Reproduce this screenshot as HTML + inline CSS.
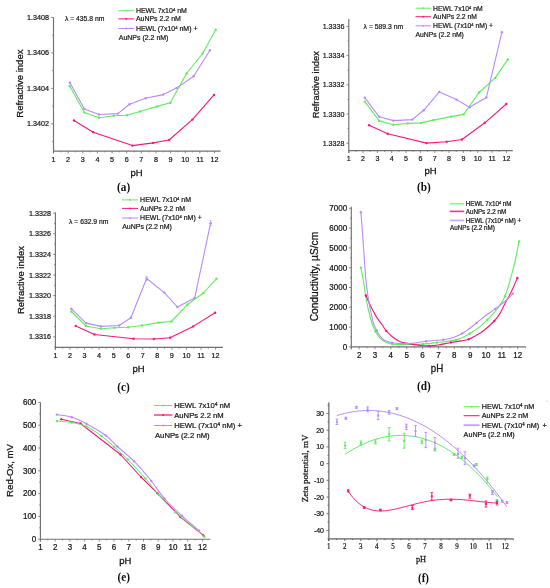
<!DOCTYPE html>
<html><head><meta charset="utf-8"><title>Figure</title>
<style>
html,body{margin:0;padding:0;background:#fff;}
body{width:550px;height:588px;overflow:hidden;}
svg{display:block;}
</style></head>
<body>
<svg width="550" height="588" viewBox="0 0 550 588">
<rect width="550" height="588" fill="#fff"/>
<line x1="53.5" y1="17.4" x2="53.5" y2="153.4" stroke="#707070" stroke-width="1.15"/>
<line x1="53.5" y1="151.1" x2="220.6" y2="151.1" stroke="#707070" stroke-width="1.15"/>
<line x1="51.2" y1="123.9" x2="53.5" y2="123.9" stroke="#707070" stroke-width="0.8"/>
<line x1="51.2" y1="88.4" x2="53.5" y2="88.4" stroke="#707070" stroke-width="0.8"/>
<line x1="51.2" y1="52.9" x2="53.5" y2="52.9" stroke="#707070" stroke-width="0.8"/>
<line x1="51.2" y1="17.4" x2="53.5" y2="17.4" stroke="#707070" stroke-width="0.8"/>
<line x1="52.2" y1="141.65" x2="53.5" y2="141.65" stroke="#707070" stroke-width="0.8"/>
<line x1="52.2" y1="106.15" x2="53.5" y2="106.15" stroke="#707070" stroke-width="0.8"/>
<line x1="52.2" y1="70.65" x2="53.5" y2="70.65" stroke="#707070" stroke-width="0.8"/>
<line x1="52.2" y1="35.15" x2="53.5" y2="35.15" stroke="#707070" stroke-width="0.8"/>
<line x1="53.5" y1="151.1" x2="53.5" y2="153.4" stroke="#707070" stroke-width="0.8"/>
<line x1="68.14" y1="151.1" x2="68.14" y2="153.4" stroke="#707070" stroke-width="0.8"/>
<line x1="82.78" y1="151.1" x2="82.78" y2="153.4" stroke="#707070" stroke-width="0.8"/>
<line x1="97.42" y1="151.1" x2="97.42" y2="153.4" stroke="#707070" stroke-width="0.8"/>
<line x1="112.06" y1="151.1" x2="112.06" y2="153.4" stroke="#707070" stroke-width="0.8"/>
<line x1="126.7" y1="151.1" x2="126.7" y2="153.4" stroke="#707070" stroke-width="0.8"/>
<line x1="141.34" y1="151.1" x2="141.34" y2="153.4" stroke="#707070" stroke-width="0.8"/>
<line x1="155.98" y1="151.1" x2="155.98" y2="153.4" stroke="#707070" stroke-width="0.8"/>
<line x1="170.62" y1="151.1" x2="170.62" y2="153.4" stroke="#707070" stroke-width="0.8"/>
<line x1="185.26" y1="151.1" x2="185.26" y2="153.4" stroke="#707070" stroke-width="0.8"/>
<line x1="199.9" y1="151.1" x2="199.9" y2="153.4" stroke="#707070" stroke-width="0.8"/>
<line x1="214.54" y1="151.1" x2="214.54" y2="153.4" stroke="#707070" stroke-width="0.8"/>
<line x1="60.82" y1="151.1" x2="60.82" y2="152.4" stroke="#707070" stroke-width="0.8"/>
<line x1="75.46" y1="151.1" x2="75.46" y2="152.4" stroke="#707070" stroke-width="0.8"/>
<line x1="90.1" y1="151.1" x2="90.1" y2="152.4" stroke="#707070" stroke-width="0.8"/>
<line x1="104.74" y1="151.1" x2="104.74" y2="152.4" stroke="#707070" stroke-width="0.8"/>
<line x1="119.38" y1="151.1" x2="119.38" y2="152.4" stroke="#707070" stroke-width="0.8"/>
<line x1="134.02" y1="151.1" x2="134.02" y2="152.4" stroke="#707070" stroke-width="0.8"/>
<line x1="148.66" y1="151.1" x2="148.66" y2="152.4" stroke="#707070" stroke-width="0.8"/>
<line x1="163.3" y1="151.1" x2="163.3" y2="152.4" stroke="#707070" stroke-width="0.8"/>
<line x1="177.94" y1="151.1" x2="177.94" y2="152.4" stroke="#707070" stroke-width="0.8"/>
<line x1="192.58" y1="151.1" x2="192.58" y2="152.4" stroke="#707070" stroke-width="0.8"/>
<line x1="207.22" y1="151.1" x2="207.22" y2="152.4" stroke="#707070" stroke-width="0.8"/>
<text x="49.1" y="126.49" font-family="'Liberation Sans', Arial, sans-serif" font-size="7.2" text-anchor="end" font-weight="normal" fill="#161616" transform="matrix(1 0 0 1.05 0 -6.32)" stroke="#161616" stroke-width="0.21">1.3402</text>
<text x="49.1" y="90.99" font-family="'Liberation Sans', Arial, sans-serif" font-size="7.2" text-anchor="end" font-weight="normal" fill="#161616" transform="matrix(1 0 0 1.05 0 -4.55)" stroke="#161616" stroke-width="0.21">1.3404</text>
<text x="49.1" y="55.49" font-family="'Liberation Sans', Arial, sans-serif" font-size="7.2" text-anchor="end" font-weight="normal" fill="#161616" transform="matrix(1 0 0 1.05 0 -2.77)" stroke="#161616" stroke-width="0.21">1.3406</text>
<text x="49.1" y="19.99" font-family="'Liberation Sans', Arial, sans-serif" font-size="7.2" text-anchor="end" font-weight="normal" fill="#161616" transform="matrix(1 0 0 1.05 0 -1)" stroke="#161616" stroke-width="0.21">1.3408</text>
<text x="53.5" y="161.9" font-family="'Liberation Sans', Arial, sans-serif" font-size="7.2" text-anchor="middle" font-weight="normal" fill="#161616" transform="matrix(1 0 0 1.05 0 -8.1)" stroke="#161616" stroke-width="0.21">1</text>
<text x="68.14" y="161.9" font-family="'Liberation Sans', Arial, sans-serif" font-size="7.2" text-anchor="middle" font-weight="normal" fill="#161616" transform="matrix(1 0 0 1.05 0 -8.1)" stroke="#161616" stroke-width="0.21">2</text>
<text x="82.78" y="161.9" font-family="'Liberation Sans', Arial, sans-serif" font-size="7.2" text-anchor="middle" font-weight="normal" fill="#161616" transform="matrix(1 0 0 1.05 0 -8.1)" stroke="#161616" stroke-width="0.21">3</text>
<text x="97.42" y="161.9" font-family="'Liberation Sans', Arial, sans-serif" font-size="7.2" text-anchor="middle" font-weight="normal" fill="#161616" transform="matrix(1 0 0 1.05 0 -8.1)" stroke="#161616" stroke-width="0.21">4</text>
<text x="112.06" y="161.9" font-family="'Liberation Sans', Arial, sans-serif" font-size="7.2" text-anchor="middle" font-weight="normal" fill="#161616" transform="matrix(1 0 0 1.05 0 -8.1)" stroke="#161616" stroke-width="0.21">5</text>
<text x="126.7" y="161.9" font-family="'Liberation Sans', Arial, sans-serif" font-size="7.2" text-anchor="middle" font-weight="normal" fill="#161616" transform="matrix(1 0 0 1.05 0 -8.1)" stroke="#161616" stroke-width="0.21">6</text>
<text x="141.34" y="161.9" font-family="'Liberation Sans', Arial, sans-serif" font-size="7.2" text-anchor="middle" font-weight="normal" fill="#161616" transform="matrix(1 0 0 1.05 0 -8.1)" stroke="#161616" stroke-width="0.21">7</text>
<text x="155.98" y="161.9" font-family="'Liberation Sans', Arial, sans-serif" font-size="7.2" text-anchor="middle" font-weight="normal" fill="#161616" transform="matrix(1 0 0 1.05 0 -8.1)" stroke="#161616" stroke-width="0.21">8</text>
<text x="170.62" y="161.9" font-family="'Liberation Sans', Arial, sans-serif" font-size="7.2" text-anchor="middle" font-weight="normal" fill="#161616" transform="matrix(1 0 0 1.05 0 -8.1)" stroke="#161616" stroke-width="0.21">9</text>
<text x="185.26" y="161.9" font-family="'Liberation Sans', Arial, sans-serif" font-size="7.2" text-anchor="middle" font-weight="normal" fill="#161616" transform="matrix(1 0 0 1.05 0 -8.1)" stroke="#161616" stroke-width="0.21">10</text>
<text x="199.9" y="161.9" font-family="'Liberation Sans', Arial, sans-serif" font-size="7.2" text-anchor="middle" font-weight="normal" fill="#161616" transform="matrix(1 0 0 1.05 0 -8.1)" stroke="#161616" stroke-width="0.21">11</text>
<text x="214.54" y="161.9" font-family="'Liberation Sans', Arial, sans-serif" font-size="7.2" text-anchor="middle" font-weight="normal" fill="#161616" transform="matrix(1 0 0 1.05 0 -8.1)" stroke="#161616" stroke-width="0.21">12</text>
<text x="22.6" y="83.65" font-family="'Liberation Sans', Arial, sans-serif" font-size="9.5" text-anchor="middle" font-weight="normal" fill="#161616" transform="rotate(-90 22.6 83.65)" stroke="#161616" stroke-width="0.28">Refractive index</text>
<text x="136.5" y="175.6" font-family="'Liberation Sans', Arial, sans-serif" font-size="9.5" text-anchor="middle" font-weight="normal" fill="#161616" transform="matrix(1 0 0 1.05 0 -8.78)" stroke="#161616" stroke-width="0.28">pH</text>
<text x="123.7" y="190.6" font-family="'Liberation Serif', 'Times New Roman', serif" font-size="11.3" text-anchor="middle" font-weight="bold" fill="#111" transform="matrix(1 0 0 1.07 0 -13.34)">(a)</text>
<text x="64.9" y="21" font-family="'Liberation Sans', Arial, sans-serif" font-size="6.8" text-anchor="start" font-weight="normal" fill="#161616" transform="matrix(1 0 0 1.05 0 -1.05)" stroke="#161616" stroke-width="0.2">λ = 435.8 nm</text>
<line x1="118.4" y1="10.7" x2="134.2" y2="10.7" stroke="#5fec5f" stroke-width="1.0"/>
<circle cx="126.3" cy="10.7" r="0.9" fill="#5fec5f"/>
<text x="135.9" y="13.15" font-family="'Liberation Sans', Arial, sans-serif" font-size="7" text-anchor="start" font-weight="normal" fill="#161616" transform="matrix(1 0 0 1.05 0 -0.66)" stroke="#161616" stroke-width="0.2">HEWL 7x10<tspan font-size="4.2" dy="-1.89">4</tspan><tspan dy="1.89"> nM</tspan></text>
<line x1="118.4" y1="18.9" x2="134.2" y2="18.9" stroke="#f5197d" stroke-width="1.0"/>
<circle cx="126.3" cy="18.9" r="0.9" fill="#f5197d"/>
<text x="135.9" y="21.35" font-family="'Liberation Sans', Arial, sans-serif" font-size="7" text-anchor="start" font-weight="normal" fill="#161616" transform="matrix(1 0 0 1.05 0 -1.07)" stroke="#161616" stroke-width="0.2">AuNPs 2.2 nM</text>
<line x1="118.4" y1="28.5" x2="134.2" y2="28.5" stroke="#b98afc" stroke-width="1.0"/>
<circle cx="126.3" cy="28.5" r="0.9" fill="#b98afc"/>
<text x="135.9" y="30.95" font-family="'Liberation Sans', Arial, sans-serif" font-size="7" text-anchor="start" font-weight="normal" fill="#161616" transform="matrix(1 0 0 1.05 0 -1.55)" stroke="#161616" stroke-width="0.2">HEWL (7x10<tspan font-size="4.2" dy="-1.89">4</tspan><tspan dy="1.89"> nM) +</tspan></text>
<text x="118.8" y="39.95" font-family="'Liberation Sans', Arial, sans-serif" font-size="7" text-anchor="start" font-weight="normal" fill="#161616" transform="matrix(1 0 0 1.05 0 -2)" stroke="#161616" stroke-width="0.2">AuNPs (2.2 nM)</text>
<polyline points="69.6,86 84.4,112.6 99,117.7 113.8,115.7 126.9,115.2 140,111.5 157.2,106.4 170.3,102.8 186.5,73.5 202.6,53.5 215.7,29.8" fill="none" stroke="#5fec5f" stroke-width="1.1" stroke-linejoin="round"/>
<circle cx="69.6" cy="86" r="1.2" fill="#5fec5f"/>
<circle cx="84.4" cy="112.6" r="1.2" fill="#5fec5f"/>
<circle cx="99" cy="117.7" r="1.2" fill="#5fec5f"/>
<circle cx="113.8" cy="115.7" r="1.2" fill="#5fec5f"/>
<circle cx="126.9" cy="115.2" r="1.2" fill="#5fec5f"/>
<circle cx="140" cy="111.5" r="1.2" fill="#5fec5f"/>
<circle cx="157.2" cy="106.4" r="1.2" fill="#5fec5f"/>
<circle cx="170.3" cy="102.8" r="1.2" fill="#5fec5f"/>
<circle cx="186.5" cy="73.5" r="1.2" fill="#5fec5f"/>
<circle cx="202.6" cy="53.5" r="1.2" fill="#5fec5f"/>
<circle cx="215.7" cy="29.8" r="1.2" fill="#5fec5f"/>
<polyline points="74,120.5 93.2,132.3 132.4,145.6 153.1,142.9 169.1,140 192.4,119.6 214,94.9" fill="none" stroke="#f5197d" stroke-width="1.1" stroke-linejoin="round"/>
<circle cx="74" cy="120.5" r="1.2" fill="#f5197d"/>
<circle cx="93.2" cy="132.3" r="1.2" fill="#f5197d"/>
<circle cx="132.4" cy="145.6" r="1.2" fill="#f5197d"/>
<circle cx="153.1" cy="142.9" r="1.2" fill="#f5197d"/>
<circle cx="169.1" cy="140" r="1.2" fill="#f5197d"/>
<circle cx="192.4" cy="119.6" r="1.2" fill="#f5197d"/>
<circle cx="214" cy="94.9" r="1.2" fill="#f5197d"/>
<polyline points="69.9,82.8 84.4,109 99,114.5 117.9,113.6 129.5,104.3 145.6,98.2 163.2,94.6 176.5,88.1 193.7,76.2 209.9,50.2" fill="none" stroke="#b98afc" stroke-width="1.1" stroke-linejoin="round"/>
<circle cx="69.9" cy="82.8" r="1.2" fill="#b98afc"/>
<circle cx="84.4" cy="109" r="1.2" fill="#b98afc"/>
<circle cx="99" cy="114.5" r="1.2" fill="#b98afc"/>
<circle cx="117.9" cy="113.6" r="1.2" fill="#b98afc"/>
<circle cx="129.5" cy="104.3" r="1.2" fill="#b98afc"/>
<circle cx="145.6" cy="98.2" r="1.2" fill="#b98afc"/>
<circle cx="163.2" cy="94.6" r="1.2" fill="#b98afc"/>
<circle cx="176.5" cy="88.1" r="1.2" fill="#b98afc"/>
<circle cx="193.7" cy="76.2" r="1.2" fill="#b98afc"/>
<circle cx="209.9" cy="50.2" r="1.2" fill="#b98afc"/>
<line x1="348.8" y1="19.1" x2="348.8" y2="152.9" stroke="#707070" stroke-width="1.15"/>
<line x1="348.8" y1="150.6" x2="512.8" y2="150.6" stroke="#707070" stroke-width="1.15"/>
<line x1="346.5" y1="143.2" x2="348.8" y2="143.2" stroke="#707070" stroke-width="0.8"/>
<line x1="346.5" y1="114" x2="348.8" y2="114" stroke="#707070" stroke-width="0.8"/>
<line x1="346.5" y1="84.8" x2="348.8" y2="84.8" stroke="#707070" stroke-width="0.8"/>
<line x1="346.5" y1="55.6" x2="348.8" y2="55.6" stroke="#707070" stroke-width="0.8"/>
<line x1="346.5" y1="26.4" x2="348.8" y2="26.4" stroke="#707070" stroke-width="0.8"/>
<line x1="347.5" y1="128.6" x2="348.8" y2="128.6" stroke="#707070" stroke-width="0.8"/>
<line x1="347.5" y1="99.4" x2="348.8" y2="99.4" stroke="#707070" stroke-width="0.8"/>
<line x1="347.5" y1="70.2" x2="348.8" y2="70.2" stroke="#707070" stroke-width="0.8"/>
<line x1="347.5" y1="41" x2="348.8" y2="41" stroke="#707070" stroke-width="0.8"/>
<line x1="348.7" y1="150.6" x2="348.7" y2="152.9" stroke="#707070" stroke-width="0.8"/>
<line x1="363.04" y1="150.6" x2="363.04" y2="152.9" stroke="#707070" stroke-width="0.8"/>
<line x1="377.38" y1="150.6" x2="377.38" y2="152.9" stroke="#707070" stroke-width="0.8"/>
<line x1="391.72" y1="150.6" x2="391.72" y2="152.9" stroke="#707070" stroke-width="0.8"/>
<line x1="406.06" y1="150.6" x2="406.06" y2="152.9" stroke="#707070" stroke-width="0.8"/>
<line x1="420.4" y1="150.6" x2="420.4" y2="152.9" stroke="#707070" stroke-width="0.8"/>
<line x1="434.74" y1="150.6" x2="434.74" y2="152.9" stroke="#707070" stroke-width="0.8"/>
<line x1="449.08" y1="150.6" x2="449.08" y2="152.9" stroke="#707070" stroke-width="0.8"/>
<line x1="463.42" y1="150.6" x2="463.42" y2="152.9" stroke="#707070" stroke-width="0.8"/>
<line x1="477.76" y1="150.6" x2="477.76" y2="152.9" stroke="#707070" stroke-width="0.8"/>
<line x1="492.1" y1="150.6" x2="492.1" y2="152.9" stroke="#707070" stroke-width="0.8"/>
<line x1="506.44" y1="150.6" x2="506.44" y2="152.9" stroke="#707070" stroke-width="0.8"/>
<line x1="355.87" y1="150.6" x2="355.87" y2="151.9" stroke="#707070" stroke-width="0.8"/>
<line x1="370.21" y1="150.6" x2="370.21" y2="151.9" stroke="#707070" stroke-width="0.8"/>
<line x1="384.55" y1="150.6" x2="384.55" y2="151.9" stroke="#707070" stroke-width="0.8"/>
<line x1="398.89" y1="150.6" x2="398.89" y2="151.9" stroke="#707070" stroke-width="0.8"/>
<line x1="413.23" y1="150.6" x2="413.23" y2="151.9" stroke="#707070" stroke-width="0.8"/>
<line x1="427.57" y1="150.6" x2="427.57" y2="151.9" stroke="#707070" stroke-width="0.8"/>
<line x1="441.91" y1="150.6" x2="441.91" y2="151.9" stroke="#707070" stroke-width="0.8"/>
<line x1="456.25" y1="150.6" x2="456.25" y2="151.9" stroke="#707070" stroke-width="0.8"/>
<line x1="470.59" y1="150.6" x2="470.59" y2="151.9" stroke="#707070" stroke-width="0.8"/>
<line x1="484.93" y1="150.6" x2="484.93" y2="151.9" stroke="#707070" stroke-width="0.8"/>
<line x1="499.27" y1="150.6" x2="499.27" y2="151.9" stroke="#707070" stroke-width="0.8"/>
<text x="344.4" y="145.76" font-family="'Liberation Sans', Arial, sans-serif" font-size="7.1" text-anchor="end" font-weight="normal" fill="#161616" transform="matrix(1 0 0 1.05 0 -7.29)" stroke="#161616" stroke-width="0.2">1.3328</text>
<text x="344.4" y="116.56" font-family="'Liberation Sans', Arial, sans-serif" font-size="7.1" text-anchor="end" font-weight="normal" fill="#161616" transform="matrix(1 0 0 1.05 0 -5.83)" stroke="#161616" stroke-width="0.2">1.3330</text>
<text x="344.4" y="87.36" font-family="'Liberation Sans', Arial, sans-serif" font-size="7.1" text-anchor="end" font-weight="normal" fill="#161616" transform="matrix(1 0 0 1.05 0 -4.37)" stroke="#161616" stroke-width="0.2">1.3332</text>
<text x="344.4" y="58.16" font-family="'Liberation Sans', Arial, sans-serif" font-size="7.1" text-anchor="end" font-weight="normal" fill="#161616" transform="matrix(1 0 0 1.05 0 -2.91)" stroke="#161616" stroke-width="0.2">1.3334</text>
<text x="344.4" y="28.96" font-family="'Liberation Sans', Arial, sans-serif" font-size="7.1" text-anchor="end" font-weight="normal" fill="#161616" transform="matrix(1 0 0 1.05 0 -1.45)" stroke="#161616" stroke-width="0.2">1.3336</text>
<text x="348.7" y="161" font-family="'Liberation Sans', Arial, sans-serif" font-size="7.1" text-anchor="middle" font-weight="normal" fill="#161616" transform="matrix(1 0 0 1.05 0 -8.05)" stroke="#161616" stroke-width="0.2">1</text>
<text x="363.04" y="161" font-family="'Liberation Sans', Arial, sans-serif" font-size="7.1" text-anchor="middle" font-weight="normal" fill="#161616" transform="matrix(1 0 0 1.05 0 -8.05)" stroke="#161616" stroke-width="0.2">2</text>
<text x="377.38" y="161" font-family="'Liberation Sans', Arial, sans-serif" font-size="7.1" text-anchor="middle" font-weight="normal" fill="#161616" transform="matrix(1 0 0 1.05 0 -8.05)" stroke="#161616" stroke-width="0.2">3</text>
<text x="391.72" y="161" font-family="'Liberation Sans', Arial, sans-serif" font-size="7.1" text-anchor="middle" font-weight="normal" fill="#161616" transform="matrix(1 0 0 1.05 0 -8.05)" stroke="#161616" stroke-width="0.2">4</text>
<text x="406.06" y="161" font-family="'Liberation Sans', Arial, sans-serif" font-size="7.1" text-anchor="middle" font-weight="normal" fill="#161616" transform="matrix(1 0 0 1.05 0 -8.05)" stroke="#161616" stroke-width="0.2">5</text>
<text x="420.4" y="161" font-family="'Liberation Sans', Arial, sans-serif" font-size="7.1" text-anchor="middle" font-weight="normal" fill="#161616" transform="matrix(1 0 0 1.05 0 -8.05)" stroke="#161616" stroke-width="0.2">6</text>
<text x="434.74" y="161" font-family="'Liberation Sans', Arial, sans-serif" font-size="7.1" text-anchor="middle" font-weight="normal" fill="#161616" transform="matrix(1 0 0 1.05 0 -8.05)" stroke="#161616" stroke-width="0.2">7</text>
<text x="449.08" y="161" font-family="'Liberation Sans', Arial, sans-serif" font-size="7.1" text-anchor="middle" font-weight="normal" fill="#161616" transform="matrix(1 0 0 1.05 0 -8.05)" stroke="#161616" stroke-width="0.2">8</text>
<text x="463.42" y="161" font-family="'Liberation Sans', Arial, sans-serif" font-size="7.1" text-anchor="middle" font-weight="normal" fill="#161616" transform="matrix(1 0 0 1.05 0 -8.05)" stroke="#161616" stroke-width="0.2">9</text>
<text x="477.76" y="161" font-family="'Liberation Sans', Arial, sans-serif" font-size="7.1" text-anchor="middle" font-weight="normal" fill="#161616" transform="matrix(1 0 0 1.05 0 -8.05)" stroke="#161616" stroke-width="0.2">10</text>
<text x="492.1" y="161" font-family="'Liberation Sans', Arial, sans-serif" font-size="7.1" text-anchor="middle" font-weight="normal" fill="#161616" transform="matrix(1 0 0 1.05 0 -8.05)" stroke="#161616" stroke-width="0.2">11</text>
<text x="506.44" y="161" font-family="'Liberation Sans', Arial, sans-serif" font-size="7.1" text-anchor="middle" font-weight="normal" fill="#161616" transform="matrix(1 0 0 1.05 0 -8.05)" stroke="#161616" stroke-width="0.2">12</text>
<text x="319" y="84.65" font-family="'Liberation Sans', Arial, sans-serif" font-size="9.4" text-anchor="middle" font-weight="normal" fill="#161616" transform="rotate(-90 319 84.65)" stroke="#161616" stroke-width="0.27">Refractive index</text>
<text x="430.6" y="174.4" font-family="'Liberation Sans', Arial, sans-serif" font-size="9.5" text-anchor="middle" font-weight="normal" fill="#161616" transform="matrix(1 0 0 1.05 0 -8.72)" stroke="#161616" stroke-width="0.28">pH</text>
<text x="423.8" y="190.7" font-family="'Liberation Serif', 'Times New Roman', serif" font-size="11.3" text-anchor="middle" font-weight="bold" fill="#111" transform="matrix(1 0 0 1.07 0 -13.35)">(b)</text>
<text x="363.6" y="28.8" font-family="'Liberation Sans', Arial, sans-serif" font-size="6.8" text-anchor="start" font-weight="normal" fill="#161616" transform="matrix(1 0 0 1.05 0 -1.44)" stroke="#161616" stroke-width="0.2">λ = 589.3 nm</text>
<line x1="415.5" y1="8.2" x2="430.9" y2="8.2" stroke="#5fec5f" stroke-width="1.0"/>
<circle cx="423.2" cy="8.2" r="0.9" fill="#5fec5f"/>
<text x="433.1" y="10.58" font-family="'Liberation Sans', Arial, sans-serif" font-size="6.8" text-anchor="start" font-weight="normal" fill="#161616" transform="matrix(1 0 0 1.05 0 -0.53)" stroke="#161616" stroke-width="0.2">HEWL 7x10<tspan font-size="4.08" dy="-1.84">4</tspan><tspan dy="1.84"> nM</tspan></text>
<line x1="415.5" y1="16.7" x2="430.9" y2="16.7" stroke="#f5197d" stroke-width="1.0"/>
<circle cx="423.2" cy="16.7" r="0.9" fill="#f5197d"/>
<text x="433.1" y="19.08" font-family="'Liberation Sans', Arial, sans-serif" font-size="6.8" text-anchor="start" font-weight="normal" fill="#161616" transform="matrix(1 0 0 1.05 0 -0.95)" stroke="#161616" stroke-width="0.2">AuNPs 2.2 nM</text>
<line x1="415.5" y1="25.8" x2="430.9" y2="25.8" stroke="#b98afc" stroke-width="1.0"/>
<circle cx="423.2" cy="25.8" r="0.9" fill="#b98afc"/>
<text x="433.1" y="28.18" font-family="'Liberation Sans', Arial, sans-serif" font-size="6.8" text-anchor="start" font-weight="normal" fill="#161616" transform="matrix(1 0 0 1.05 0 -1.41)" stroke="#161616" stroke-width="0.2">HEWL (7x10<tspan font-size="4.08" dy="-1.84">4</tspan><tspan dy="1.84"> nM) +</tspan></text>
<text x="415.5" y="36.58" font-family="'Liberation Sans', Arial, sans-serif" font-size="6.8" text-anchor="start" font-weight="normal" fill="#161616" transform="matrix(1 0 0 1.05 0 -1.83)" stroke="#161616" stroke-width="0.2">AuNPs (2.2 nM)</text>
<polyline points="364.8,101.6 379.2,120.9 393.5,124.7 407.7,123.4 420.8,122.9 433.5,120.1 451,116.6 463.6,114.4 479.1,92.5 495.2,77.9 507.8,59.4" fill="none" stroke="#5fec5f" stroke-width="1.1" stroke-linejoin="round"/>
<circle cx="364.8" cy="101.6" r="1.2" fill="#5fec5f"/>
<circle cx="379.2" cy="120.9" r="1.2" fill="#5fec5f"/>
<circle cx="393.5" cy="124.7" r="1.2" fill="#5fec5f"/>
<circle cx="407.7" cy="123.4" r="1.2" fill="#5fec5f"/>
<circle cx="420.8" cy="122.9" r="1.2" fill="#5fec5f"/>
<circle cx="433.5" cy="120.1" r="1.2" fill="#5fec5f"/>
<circle cx="451" cy="116.6" r="1.2" fill="#5fec5f"/>
<circle cx="463.6" cy="114.4" r="1.2" fill="#5fec5f"/>
<circle cx="479.1" cy="92.5" r="1.2" fill="#5fec5f"/>
<circle cx="495.2" cy="77.9" r="1.2" fill="#5fec5f"/>
<circle cx="507.8" cy="59.4" r="1.2" fill="#5fec5f"/>
<polyline points="369.1,125.2 387.7,133.7 426.5,143.1 446.6,141.7 462,139.5 484.8,122.8 506.3,104" fill="none" stroke="#f5197d" stroke-width="1.1" stroke-linejoin="round"/>
<circle cx="369.1" cy="125.2" r="1.2" fill="#f5197d"/>
<circle cx="387.7" cy="133.7" r="1.2" fill="#f5197d"/>
<circle cx="426.5" cy="143.1" r="1.2" fill="#f5197d"/>
<circle cx="446.6" cy="141.7" r="1.2" fill="#f5197d"/>
<circle cx="462" cy="139.5" r="1.2" fill="#f5197d"/>
<circle cx="484.8" cy="122.8" r="1.2" fill="#f5197d"/>
<circle cx="506.3" cy="104" r="1.2" fill="#f5197d"/>
<polyline points="364.8,97.7 379.2,116.8 393.5,120.6 412.3,119.6 423.7,110.3 439.3,91.9 456.5,99.6 469.4,107.3 486.4,97.4 501.9,32.2" fill="none" stroke="#b98afc" stroke-width="1.1" stroke-linejoin="round"/>
<circle cx="364.8" cy="97.7" r="1.2" fill="#b98afc"/>
<circle cx="379.2" cy="116.8" r="1.2" fill="#b98afc"/>
<circle cx="393.5" cy="120.6" r="1.2" fill="#b98afc"/>
<circle cx="412.3" cy="119.6" r="1.2" fill="#b98afc"/>
<circle cx="423.7" cy="110.3" r="1.2" fill="#b98afc"/>
<circle cx="439.3" cy="91.9" r="1.2" fill="#b98afc"/>
<circle cx="456.5" cy="99.6" r="1.2" fill="#b98afc"/>
<circle cx="469.4" cy="107.3" r="1.2" fill="#b98afc"/>
<circle cx="486.4" cy="97.4" r="1.2" fill="#b98afc"/>
<circle cx="501.9" cy="32.2" r="1.2" fill="#b98afc"/>
<line x1="55.4" y1="212.6" x2="55.4" y2="349.7" stroke="#707070" stroke-width="1.15"/>
<line x1="55.4" y1="347.4" x2="222.9" y2="347.4" stroke="#707070" stroke-width="1.15"/>
<line x1="53.1" y1="336.88" x2="55.4" y2="336.88" stroke="#707070" stroke-width="0.8"/>
<line x1="53.1" y1="316.25" x2="55.4" y2="316.25" stroke="#707070" stroke-width="0.8"/>
<line x1="53.1" y1="295.62" x2="55.4" y2="295.62" stroke="#707070" stroke-width="0.8"/>
<line x1="53.1" y1="274.99" x2="55.4" y2="274.99" stroke="#707070" stroke-width="0.8"/>
<line x1="53.1" y1="254.36" x2="55.4" y2="254.36" stroke="#707070" stroke-width="0.8"/>
<line x1="53.1" y1="233.73" x2="55.4" y2="233.73" stroke="#707070" stroke-width="0.8"/>
<line x1="53.1" y1="213.1" x2="55.4" y2="213.1" stroke="#707070" stroke-width="0.8"/>
<line x1="54.1" y1="347.2" x2="55.4" y2="347.2" stroke="#707070" stroke-width="0.8"/>
<line x1="54.1" y1="326.57" x2="55.4" y2="326.57" stroke="#707070" stroke-width="0.8"/>
<line x1="54.1" y1="305.94" x2="55.4" y2="305.94" stroke="#707070" stroke-width="0.8"/>
<line x1="54.1" y1="285.31" x2="55.4" y2="285.31" stroke="#707070" stroke-width="0.8"/>
<line x1="54.1" y1="264.68" x2="55.4" y2="264.68" stroke="#707070" stroke-width="0.8"/>
<line x1="54.1" y1="244.05" x2="55.4" y2="244.05" stroke="#707070" stroke-width="0.8"/>
<line x1="54.1" y1="223.41" x2="55.4" y2="223.41" stroke="#707070" stroke-width="0.8"/>
<line x1="55.4" y1="347.4" x2="55.4" y2="349.7" stroke="#707070" stroke-width="0.8"/>
<line x1="69.96" y1="347.4" x2="69.96" y2="349.7" stroke="#707070" stroke-width="0.8"/>
<line x1="84.52" y1="347.4" x2="84.52" y2="349.7" stroke="#707070" stroke-width="0.8"/>
<line x1="99.08" y1="347.4" x2="99.08" y2="349.7" stroke="#707070" stroke-width="0.8"/>
<line x1="113.64" y1="347.4" x2="113.64" y2="349.7" stroke="#707070" stroke-width="0.8"/>
<line x1="128.2" y1="347.4" x2="128.2" y2="349.7" stroke="#707070" stroke-width="0.8"/>
<line x1="142.76" y1="347.4" x2="142.76" y2="349.7" stroke="#707070" stroke-width="0.8"/>
<line x1="157.32" y1="347.4" x2="157.32" y2="349.7" stroke="#707070" stroke-width="0.8"/>
<line x1="171.88" y1="347.4" x2="171.88" y2="349.7" stroke="#707070" stroke-width="0.8"/>
<line x1="186.44" y1="347.4" x2="186.44" y2="349.7" stroke="#707070" stroke-width="0.8"/>
<line x1="201" y1="347.4" x2="201" y2="349.7" stroke="#707070" stroke-width="0.8"/>
<line x1="215.56" y1="347.4" x2="215.56" y2="349.7" stroke="#707070" stroke-width="0.8"/>
<line x1="62.68" y1="347.4" x2="62.68" y2="348.7" stroke="#707070" stroke-width="0.8"/>
<line x1="77.24" y1="347.4" x2="77.24" y2="348.7" stroke="#707070" stroke-width="0.8"/>
<line x1="91.8" y1="347.4" x2="91.8" y2="348.7" stroke="#707070" stroke-width="0.8"/>
<line x1="106.36" y1="347.4" x2="106.36" y2="348.7" stroke="#707070" stroke-width="0.8"/>
<line x1="120.92" y1="347.4" x2="120.92" y2="348.7" stroke="#707070" stroke-width="0.8"/>
<line x1="135.48" y1="347.4" x2="135.48" y2="348.7" stroke="#707070" stroke-width="0.8"/>
<line x1="150.04" y1="347.4" x2="150.04" y2="348.7" stroke="#707070" stroke-width="0.8"/>
<line x1="164.6" y1="347.4" x2="164.6" y2="348.7" stroke="#707070" stroke-width="0.8"/>
<line x1="179.16" y1="347.4" x2="179.16" y2="348.7" stroke="#707070" stroke-width="0.8"/>
<line x1="193.72" y1="347.4" x2="193.72" y2="348.7" stroke="#707070" stroke-width="0.8"/>
<line x1="208.28" y1="347.4" x2="208.28" y2="348.7" stroke="#707070" stroke-width="0.8"/>
<text x="50.9" y="339.47" font-family="'Liberation Sans', Arial, sans-serif" font-size="7.2" text-anchor="end" font-weight="normal" fill="#161616" transform="matrix(1 0 0 1.05 0 -16.97)" stroke="#161616" stroke-width="0.21">1.3316</text>
<text x="50.9" y="318.84" font-family="'Liberation Sans', Arial, sans-serif" font-size="7.2" text-anchor="end" font-weight="normal" fill="#161616" transform="matrix(1 0 0 1.05 0 -15.94)" stroke="#161616" stroke-width="0.21">1.3318</text>
<text x="50.9" y="298.21" font-family="'Liberation Sans', Arial, sans-serif" font-size="7.2" text-anchor="end" font-weight="normal" fill="#161616" transform="matrix(1 0 0 1.05 0 -14.91)" stroke="#161616" stroke-width="0.21">1.3320</text>
<text x="50.9" y="277.58" font-family="'Liberation Sans', Arial, sans-serif" font-size="7.2" text-anchor="end" font-weight="normal" fill="#161616" transform="matrix(1 0 0 1.05 0 -13.88)" stroke="#161616" stroke-width="0.21">1.3322</text>
<text x="50.9" y="256.95" font-family="'Liberation Sans', Arial, sans-serif" font-size="7.2" text-anchor="end" font-weight="normal" fill="#161616" transform="matrix(1 0 0 1.05 0 -12.85)" stroke="#161616" stroke-width="0.21">1.3324</text>
<text x="50.9" y="236.32" font-family="'Liberation Sans', Arial, sans-serif" font-size="7.2" text-anchor="end" font-weight="normal" fill="#161616" transform="matrix(1 0 0 1.05 0 -11.82)" stroke="#161616" stroke-width="0.21">1.3326</text>
<text x="50.9" y="215.69" font-family="'Liberation Sans', Arial, sans-serif" font-size="7.2" text-anchor="end" font-weight="normal" fill="#161616" transform="matrix(1 0 0 1.05 0 -10.78)" stroke="#161616" stroke-width="0.21">1.3328</text>
<text x="55.4" y="358" font-family="'Liberation Sans', Arial, sans-serif" font-size="7.2" text-anchor="middle" font-weight="normal" fill="#161616" transform="matrix(1 0 0 1.05 0 -17.9)" stroke="#161616" stroke-width="0.21">1</text>
<text x="69.96" y="358" font-family="'Liberation Sans', Arial, sans-serif" font-size="7.2" text-anchor="middle" font-weight="normal" fill="#161616" transform="matrix(1 0 0 1.05 0 -17.9)" stroke="#161616" stroke-width="0.21">2</text>
<text x="84.52" y="358" font-family="'Liberation Sans', Arial, sans-serif" font-size="7.2" text-anchor="middle" font-weight="normal" fill="#161616" transform="matrix(1 0 0 1.05 0 -17.9)" stroke="#161616" stroke-width="0.21">3</text>
<text x="99.08" y="358" font-family="'Liberation Sans', Arial, sans-serif" font-size="7.2" text-anchor="middle" font-weight="normal" fill="#161616" transform="matrix(1 0 0 1.05 0 -17.9)" stroke="#161616" stroke-width="0.21">4</text>
<text x="113.64" y="358" font-family="'Liberation Sans', Arial, sans-serif" font-size="7.2" text-anchor="middle" font-weight="normal" fill="#161616" transform="matrix(1 0 0 1.05 0 -17.9)" stroke="#161616" stroke-width="0.21">5</text>
<text x="128.2" y="358" font-family="'Liberation Sans', Arial, sans-serif" font-size="7.2" text-anchor="middle" font-weight="normal" fill="#161616" transform="matrix(1 0 0 1.05 0 -17.9)" stroke="#161616" stroke-width="0.21">6</text>
<text x="142.76" y="358" font-family="'Liberation Sans', Arial, sans-serif" font-size="7.2" text-anchor="middle" font-weight="normal" fill="#161616" transform="matrix(1 0 0 1.05 0 -17.9)" stroke="#161616" stroke-width="0.21">7</text>
<text x="157.32" y="358" font-family="'Liberation Sans', Arial, sans-serif" font-size="7.2" text-anchor="middle" font-weight="normal" fill="#161616" transform="matrix(1 0 0 1.05 0 -17.9)" stroke="#161616" stroke-width="0.21">8</text>
<text x="171.88" y="358" font-family="'Liberation Sans', Arial, sans-serif" font-size="7.2" text-anchor="middle" font-weight="normal" fill="#161616" transform="matrix(1 0 0 1.05 0 -17.9)" stroke="#161616" stroke-width="0.21">9</text>
<text x="186.44" y="358" font-family="'Liberation Sans', Arial, sans-serif" font-size="7.2" text-anchor="middle" font-weight="normal" fill="#161616" transform="matrix(1 0 0 1.05 0 -17.9)" stroke="#161616" stroke-width="0.21">10</text>
<text x="201" y="358" font-family="'Liberation Sans', Arial, sans-serif" font-size="7.2" text-anchor="middle" font-weight="normal" fill="#161616" transform="matrix(1 0 0 1.05 0 -17.9)" stroke="#161616" stroke-width="0.21">11</text>
<text x="215.56" y="358" font-family="'Liberation Sans', Arial, sans-serif" font-size="7.2" text-anchor="middle" font-weight="normal" fill="#161616" transform="matrix(1 0 0 1.05 0 -17.9)" stroke="#161616" stroke-width="0.21">12</text>
<text x="24.1" y="280" font-family="'Liberation Sans', Arial, sans-serif" font-size="9.5" text-anchor="middle" font-weight="normal" fill="#161616" transform="rotate(-90 24.1 280)" stroke="#161616" stroke-width="0.28">Refractive index</text>
<text x="138.6" y="372" font-family="'Liberation Sans', Arial, sans-serif" font-size="9.5" text-anchor="middle" font-weight="normal" fill="#161616" transform="matrix(1 0 0 1.05 0 -18.6)" stroke="#161616" stroke-width="0.28">pH</text>
<text x="123.6" y="390.9" font-family="'Liberation Serif', 'Times New Roman', serif" font-size="11.3" text-anchor="middle" font-weight="bold" fill="#111" transform="matrix(1 0 0 1.07 0 -27.36)">(c)</text>
<text x="69" y="224.2" font-family="'Liberation Sans', Arial, sans-serif" font-size="6.8" text-anchor="start" font-weight="normal" fill="#161616" transform="matrix(1 0 0 1.05 0 -11.21)" stroke="#161616" stroke-width="0.2">λ = 632.9 nm</text>
<line x1="122" y1="199.9" x2="138" y2="199.9" stroke="#5fec5f" stroke-width="1.0"/>
<circle cx="130" cy="199.9" r="0.9" fill="#5fec5f"/>
<text x="140.1" y="202.35" font-family="'Liberation Sans', Arial, sans-serif" font-size="7" text-anchor="start" font-weight="normal" fill="#161616" transform="matrix(1 0 0 1.05 0 -10.12)" stroke="#161616" stroke-width="0.2">HEWL 7x10<tspan font-size="4.2" dy="-1.89">4</tspan><tspan dy="1.89"> nM</tspan></text>
<line x1="122" y1="208.4" x2="138" y2="208.4" stroke="#f5197d" stroke-width="1.0"/>
<circle cx="130" cy="208.4" r="0.9" fill="#f5197d"/>
<text x="140.1" y="210.85" font-family="'Liberation Sans', Arial, sans-serif" font-size="7" text-anchor="start" font-weight="normal" fill="#161616" transform="matrix(1 0 0 1.05 0 -10.54)" stroke="#161616" stroke-width="0.2">AuNPs 2.2 nM</text>
<line x1="122" y1="218" x2="138" y2="218" stroke="#b98afc" stroke-width="1.0"/>
<circle cx="130" cy="218" r="0.9" fill="#b98afc"/>
<text x="140.1" y="220.45" font-family="'Liberation Sans', Arial, sans-serif" font-size="7" text-anchor="start" font-weight="normal" fill="#161616" transform="matrix(1 0 0 1.05 0 -11.02)" stroke="#161616" stroke-width="0.2">HEWL (7x10<tspan font-size="4.2" dy="-1.89">4</tspan><tspan dy="1.89"> nM) +</tspan></text>
<text x="122.2" y="229.15" font-family="'Liberation Sans', Arial, sans-serif" font-size="7" text-anchor="start" font-weight="normal" fill="#161616" transform="matrix(1 0 0 1.05 0 -11.46)" stroke="#161616" stroke-width="0.2">AuNPs (2.2 nM)</text>
<polyline points="71.3,311.5 86,326 100.9,328.7 114.5,327.8 128.2,327.3 141.9,325.5 158.6,322.6 171.3,321.5 187.2,304.8 203.4,293 216.4,278.8" fill="none" stroke="#5fec5f" stroke-width="1.1" stroke-linejoin="round"/>
<circle cx="71.3" cy="311.5" r="1.2" fill="#5fec5f"/>
<circle cx="86" cy="326" r="1.2" fill="#5fec5f"/>
<circle cx="100.9" cy="328.7" r="1.2" fill="#5fec5f"/>
<circle cx="114.5" cy="327.8" r="1.2" fill="#5fec5f"/>
<circle cx="128.2" cy="327.3" r="1.2" fill="#5fec5f"/>
<circle cx="141.9" cy="325.5" r="1.2" fill="#5fec5f"/>
<circle cx="158.6" cy="322.6" r="1.2" fill="#5fec5f"/>
<circle cx="171.3" cy="321.5" r="1.2" fill="#5fec5f"/>
<circle cx="187.2" cy="304.8" r="1.2" fill="#5fec5f"/>
<circle cx="203.4" cy="293" r="1.2" fill="#5fec5f"/>
<circle cx="216.4" cy="278.8" r="1.2" fill="#5fec5f"/>
<polyline points="75.7,325.9 94.5,334.5 133.6,338.7 153.9,339 170.1,337.7 193.2,326.4 215.1,312.8" fill="none" stroke="#f5197d" stroke-width="1.1" stroke-linejoin="round"/>
<circle cx="75.7" cy="325.9" r="1.2" fill="#f5197d"/>
<circle cx="94.5" cy="334.5" r="1.2" fill="#f5197d"/>
<circle cx="133.6" cy="338.7" r="1.2" fill="#f5197d"/>
<circle cx="153.9" cy="339" r="1.2" fill="#f5197d"/>
<circle cx="170.1" cy="337.7" r="1.2" fill="#f5197d"/>
<circle cx="193.2" cy="326.4" r="1.2" fill="#f5197d"/>
<circle cx="215.1" cy="312.8" r="1.2" fill="#f5197d"/>
<polyline points="71.3,308.7 86,323.1 100.9,326.4 119.1,325.5 130.9,317.8 146.6,278.5 164.3,292.6 177.4,307 194.7,297.9 210.6,223.2" fill="none" stroke="#b98afc" stroke-width="1.1" stroke-linejoin="round"/>
<circle cx="71.3" cy="308.7" r="1.2" fill="#b98afc"/>
<circle cx="86" cy="323.1" r="1.2" fill="#b98afc"/>
<circle cx="100.9" cy="326.4" r="1.2" fill="#b98afc"/>
<circle cx="119.1" cy="325.5" r="1.2" fill="#b98afc"/>
<circle cx="130.9" cy="317.8" r="1.2" fill="#b98afc"/>
<circle cx="146.6" cy="278.5" r="1.2" fill="#b98afc"/>
<circle cx="164.3" cy="292.6" r="1.2" fill="#b98afc"/>
<circle cx="177.4" cy="307" r="1.2" fill="#b98afc"/>
<circle cx="194.7" cy="297.9" r="1.2" fill="#b98afc"/>
<circle cx="210.6" cy="223.2" r="1.2" fill="#b98afc"/>
<line x1="210.6" y1="220.6" x2="210.6" y2="225.8" stroke="#b98afc" stroke-width="0.7"/>
<line x1="209.6" y1="220.6" x2="211.6" y2="220.6" stroke="#b98afc" stroke-width="0.7"/>
<line x1="209.6" y1="225.8" x2="211.6" y2="225.8" stroke="#b98afc" stroke-width="0.7"/>
<line x1="146.6" y1="276.6" x2="146.6" y2="280.4" stroke="#b98afc" stroke-width="0.7"/>
<line x1="145.6" y1="276.6" x2="147.6" y2="276.6" stroke="#b98afc" stroke-width="0.7"/>
<line x1="145.6" y1="280.4" x2="147.6" y2="280.4" stroke="#b98afc" stroke-width="0.7"/>
<line x1="351.3" y1="206.8" x2="351.3" y2="349.2" stroke="#707070" stroke-width="1.15"/>
<line x1="351.3" y1="346.9" x2="525.6" y2="346.9" stroke="#707070" stroke-width="1.15"/>
<line x1="349" y1="346.9" x2="351.3" y2="346.9" stroke="#707070" stroke-width="0.8"/>
<line x1="349" y1="327.1" x2="351.3" y2="327.1" stroke="#707070" stroke-width="0.8"/>
<line x1="349" y1="307.3" x2="351.3" y2="307.3" stroke="#707070" stroke-width="0.8"/>
<line x1="349" y1="287.5" x2="351.3" y2="287.5" stroke="#707070" stroke-width="0.8"/>
<line x1="349" y1="267.7" x2="351.3" y2="267.7" stroke="#707070" stroke-width="0.8"/>
<line x1="349" y1="247.9" x2="351.3" y2="247.9" stroke="#707070" stroke-width="0.8"/>
<line x1="349" y1="228.1" x2="351.3" y2="228.1" stroke="#707070" stroke-width="0.8"/>
<line x1="349" y1="208.3" x2="351.3" y2="208.3" stroke="#707070" stroke-width="0.8"/>
<line x1="350" y1="337" x2="351.3" y2="337" stroke="#707070" stroke-width="0.8"/>
<line x1="350" y1="317.2" x2="351.3" y2="317.2" stroke="#707070" stroke-width="0.8"/>
<line x1="350" y1="297.4" x2="351.3" y2="297.4" stroke="#707070" stroke-width="0.8"/>
<line x1="350" y1="277.6" x2="351.3" y2="277.6" stroke="#707070" stroke-width="0.8"/>
<line x1="350" y1="257.8" x2="351.3" y2="257.8" stroke="#707070" stroke-width="0.8"/>
<line x1="350" y1="238" x2="351.3" y2="238" stroke="#707070" stroke-width="0.8"/>
<line x1="350" y1="218.2" x2="351.3" y2="218.2" stroke="#707070" stroke-width="0.8"/>
<line x1="359.13" y1="346.9" x2="359.13" y2="349.2" stroke="#707070" stroke-width="0.8"/>
<line x1="374.99" y1="346.9" x2="374.99" y2="349.2" stroke="#707070" stroke-width="0.8"/>
<line x1="390.85" y1="346.9" x2="390.85" y2="349.2" stroke="#707070" stroke-width="0.8"/>
<line x1="406.71" y1="346.9" x2="406.71" y2="349.2" stroke="#707070" stroke-width="0.8"/>
<line x1="422.57" y1="346.9" x2="422.57" y2="349.2" stroke="#707070" stroke-width="0.8"/>
<line x1="438.43" y1="346.9" x2="438.43" y2="349.2" stroke="#707070" stroke-width="0.8"/>
<line x1="454.29" y1="346.9" x2="454.29" y2="349.2" stroke="#707070" stroke-width="0.8"/>
<line x1="470.15" y1="346.9" x2="470.15" y2="349.2" stroke="#707070" stroke-width="0.8"/>
<line x1="486.01" y1="346.9" x2="486.01" y2="349.2" stroke="#707070" stroke-width="0.8"/>
<line x1="501.87" y1="346.9" x2="501.87" y2="349.2" stroke="#707070" stroke-width="0.8"/>
<line x1="517.73" y1="346.9" x2="517.73" y2="349.2" stroke="#707070" stroke-width="0.8"/>
<line x1="351.2" y1="346.9" x2="351.2" y2="348.2" stroke="#707070" stroke-width="0.8"/>
<line x1="367.06" y1="346.9" x2="367.06" y2="348.2" stroke="#707070" stroke-width="0.8"/>
<line x1="382.92" y1="346.9" x2="382.92" y2="348.2" stroke="#707070" stroke-width="0.8"/>
<line x1="398.78" y1="346.9" x2="398.78" y2="348.2" stroke="#707070" stroke-width="0.8"/>
<line x1="414.64" y1="346.9" x2="414.64" y2="348.2" stroke="#707070" stroke-width="0.8"/>
<line x1="430.5" y1="346.9" x2="430.5" y2="348.2" stroke="#707070" stroke-width="0.8"/>
<line x1="446.36" y1="346.9" x2="446.36" y2="348.2" stroke="#707070" stroke-width="0.8"/>
<line x1="462.22" y1="346.9" x2="462.22" y2="348.2" stroke="#707070" stroke-width="0.8"/>
<line x1="478.08" y1="346.9" x2="478.08" y2="348.2" stroke="#707070" stroke-width="0.8"/>
<line x1="493.94" y1="346.9" x2="493.94" y2="348.2" stroke="#707070" stroke-width="0.8"/>
<line x1="509.8" y1="346.9" x2="509.8" y2="348.2" stroke="#707070" stroke-width="0.8"/>
<line x1="525.66" y1="346.9" x2="525.66" y2="348.2" stroke="#707070" stroke-width="0.8"/>
<text x="347.1" y="349.78" font-family="'Liberation Sans', Arial, sans-serif" font-size="8" text-anchor="end" font-weight="normal" fill="#161616" transform="matrix(1 0 0 1.05 0 -17.49)" stroke="#161616" stroke-width="0.23">0</text>
<text x="347.1" y="329.98" font-family="'Liberation Sans', Arial, sans-serif" font-size="8" text-anchor="end" font-weight="normal" fill="#161616" transform="matrix(1 0 0 1.05 0 -16.5)" stroke="#161616" stroke-width="0.23">1000</text>
<text x="347.1" y="310.18" font-family="'Liberation Sans', Arial, sans-serif" font-size="8" text-anchor="end" font-weight="normal" fill="#161616" transform="matrix(1 0 0 1.05 0 -15.51)" stroke="#161616" stroke-width="0.23">2000</text>
<text x="347.1" y="290.38" font-family="'Liberation Sans', Arial, sans-serif" font-size="8" text-anchor="end" font-weight="normal" fill="#161616" transform="matrix(1 0 0 1.05 0 -14.52)" stroke="#161616" stroke-width="0.23">3000</text>
<text x="347.1" y="270.58" font-family="'Liberation Sans', Arial, sans-serif" font-size="8" text-anchor="end" font-weight="normal" fill="#161616" transform="matrix(1 0 0 1.05 0 -13.53)" stroke="#161616" stroke-width="0.23">4000</text>
<text x="347.1" y="250.78" font-family="'Liberation Sans', Arial, sans-serif" font-size="8" text-anchor="end" font-weight="normal" fill="#161616" transform="matrix(1 0 0 1.05 0 -12.54)" stroke="#161616" stroke-width="0.23">5000</text>
<text x="347.1" y="230.98" font-family="'Liberation Sans', Arial, sans-serif" font-size="8" text-anchor="end" font-weight="normal" fill="#161616" transform="matrix(1 0 0 1.05 0 -11.55)" stroke="#161616" stroke-width="0.23">6000</text>
<text x="347.1" y="211.18" font-family="'Liberation Sans', Arial, sans-serif" font-size="8" text-anchor="end" font-weight="normal" fill="#161616" transform="matrix(1 0 0 1.05 0 -10.56)" stroke="#161616" stroke-width="0.23">7000</text>
<text x="359.13" y="358.2" font-family="'Liberation Sans', Arial, sans-serif" font-size="8" text-anchor="middle" font-weight="normal" fill="#161616" transform="matrix(1 0 0 1.05 0 -17.91)" stroke="#161616" stroke-width="0.23">2</text>
<text x="374.99" y="358.2" font-family="'Liberation Sans', Arial, sans-serif" font-size="8" text-anchor="middle" font-weight="normal" fill="#161616" transform="matrix(1 0 0 1.05 0 -17.91)" stroke="#161616" stroke-width="0.23">3</text>
<text x="390.85" y="358.2" font-family="'Liberation Sans', Arial, sans-serif" font-size="8" text-anchor="middle" font-weight="normal" fill="#161616" transform="matrix(1 0 0 1.05 0 -17.91)" stroke="#161616" stroke-width="0.23">4</text>
<text x="406.71" y="358.2" font-family="'Liberation Sans', Arial, sans-serif" font-size="8" text-anchor="middle" font-weight="normal" fill="#161616" transform="matrix(1 0 0 1.05 0 -17.91)" stroke="#161616" stroke-width="0.23">5</text>
<text x="422.57" y="358.2" font-family="'Liberation Sans', Arial, sans-serif" font-size="8" text-anchor="middle" font-weight="normal" fill="#161616" transform="matrix(1 0 0 1.05 0 -17.91)" stroke="#161616" stroke-width="0.23">6</text>
<text x="438.43" y="358.2" font-family="'Liberation Sans', Arial, sans-serif" font-size="8" text-anchor="middle" font-weight="normal" fill="#161616" transform="matrix(1 0 0 1.05 0 -17.91)" stroke="#161616" stroke-width="0.23">7</text>
<text x="454.29" y="358.2" font-family="'Liberation Sans', Arial, sans-serif" font-size="8" text-anchor="middle" font-weight="normal" fill="#161616" transform="matrix(1 0 0 1.05 0 -17.91)" stroke="#161616" stroke-width="0.23">8</text>
<text x="470.15" y="358.2" font-family="'Liberation Sans', Arial, sans-serif" font-size="8" text-anchor="middle" font-weight="normal" fill="#161616" transform="matrix(1 0 0 1.05 0 -17.91)" stroke="#161616" stroke-width="0.23">9</text>
<text x="486.01" y="358.2" font-family="'Liberation Sans', Arial, sans-serif" font-size="8" text-anchor="middle" font-weight="normal" fill="#161616" transform="matrix(1 0 0 1.05 0 -17.91)" stroke="#161616" stroke-width="0.23">10</text>
<text x="501.87" y="358.2" font-family="'Liberation Sans', Arial, sans-serif" font-size="8" text-anchor="middle" font-weight="normal" fill="#161616" transform="matrix(1 0 0 1.05 0 -17.91)" stroke="#161616" stroke-width="0.23">11</text>
<text x="517.73" y="358.2" font-family="'Liberation Sans', Arial, sans-serif" font-size="8" text-anchor="middle" font-weight="normal" fill="#161616" transform="matrix(1 0 0 1.05 0 -17.91)" stroke="#161616" stroke-width="0.23">12</text>
<text x="318.2" y="276.6" font-family="'Liberation Sans', Arial, sans-serif" font-size="10.2" text-anchor="middle" font-weight="normal" fill="#161616" transform="rotate(-90 318.2 276.6)" stroke="#161616" stroke-width="0.3">Conductivity, µS/cm</text>
<text x="437" y="372.4" font-family="'Liberation Sans', Arial, sans-serif" font-size="9.8" text-anchor="middle" font-weight="normal" fill="#161616" transform="matrix(1 0 0 1.05 0 -18.62)" stroke="#161616" stroke-width="0.28">pH</text>
<text x="423.8" y="390.3" font-family="'Liberation Serif', 'Times New Roman', serif" font-size="11.3" text-anchor="middle" font-weight="bold" fill="#111" transform="matrix(1 0 0 1.07 0 -27.32)">(d)</text>
<line x1="449.8" y1="203.7" x2="464.2" y2="203.7" stroke="#8ef08e" stroke-width="1.6"/>
<text x="465.7" y="205.91" font-family="'Liberation Sans', Arial, sans-serif" font-size="6.3" text-anchor="start" font-weight="normal" fill="#161616" transform="matrix(1 0 0 1.05 0 -10.3)" stroke="#161616" stroke-width="0.2">HEWL 7x10<tspan font-size="3.78" dy="-1.7">4</tspan><tspan dy="1.7"> nM</tspan></text>
<line x1="449.8" y1="211.4" x2="464.2" y2="211.4" stroke="#f4358e" stroke-width="1.6"/>
<text x="465.7" y="213.61" font-family="'Liberation Sans', Arial, sans-serif" font-size="6.3" text-anchor="start" font-weight="normal" fill="#161616" transform="matrix(1 0 0 1.05 0 -10.68)" stroke="#161616" stroke-width="0.2">AuNPs 2.2 nM</text>
<line x1="449.8" y1="220.4" x2="464.2" y2="220.4" stroke="#c7a6fb" stroke-width="1.6"/>
<text x="465.7" y="222.61" font-family="'Liberation Sans', Arial, sans-serif" font-size="6.3" text-anchor="start" font-weight="normal" fill="#161616" transform="matrix(1 0 0 1.05 0 -11.13)" stroke="#161616" stroke-width="0.2">HEWL (7x10<tspan font-size="3.78" dy="-1.7">4</tspan><tspan dy="1.7"> nM) +</tspan></text>
<text x="450.1" y="230.41" font-family="'Liberation Sans', Arial, sans-serif" font-size="6.3" text-anchor="start" font-weight="normal" fill="#161616" transform="matrix(1 0 0 1.05 0 -11.52)" stroke="#161616" stroke-width="0.2">AuNPs (2.2 nM)</text>
<circle cx="547.3" cy="401.2" r="0.7" fill="#c8c8c8"/>
<path d="M360.9,267.8 C361.33,270.1 362.63,276.52 363.5,281.6 C364.37,286.68 365.22,293.32 366.1,298.3 C366.98,303.28 367.78,307.27 368.8,311.5 C369.82,315.73 371.08,320.37 372.2,323.7 C373.32,327.03 374.22,329.1 375.5,331.5 C376.78,333.9 378.25,336.35 379.9,338.1 C381.55,339.85 383.28,340.98 385.4,342 C387.52,343.02 389.83,343.77 392.6,344.2 C395.37,344.63 399.1,344.57 402,344.6 C404.9,344.63 406.52,344.48 410,344.4 C413.48,344.32 418.42,344.42 422.9,344.1 C427.38,343.78 431.38,343.2 436.9,342.5 C442.42,341.8 450.55,341.37 456,339.9 C461.45,338.43 465.67,335.87 469.6,333.7 C473.53,331.53 476.63,329.23 479.6,326.9 C482.57,324.57 485.08,321.97 487.4,319.7 C489.72,317.43 491.53,315.53 493.5,313.3 C495.47,311.07 497.28,309.15 499.2,306.3 C501.12,303.45 503.22,300.43 505,296.2 C506.78,291.97 508.27,286.55 509.9,280.9 C511.53,275.25 513.27,268.88 514.8,262.3 C516.33,255.72 518.38,244.88 519.1,241.4" fill="none" stroke="#5fec5f" stroke-width="1.1"/>
<circle cx="360.9" cy="267.8" r="1.2" fill="#5fec5f"/>
<circle cx="375.5" cy="331.5" r="1.2" fill="#5fec5f"/>
<circle cx="392.6" cy="344.2" r="1.2" fill="#5fec5f"/>
<circle cx="422.9" cy="344.1" r="1.2" fill="#5fec5f"/>
<circle cx="436.9" cy="342.5" r="1.2" fill="#5fec5f"/>
<circle cx="456" cy="339.9" r="1.2" fill="#5fec5f"/>
<circle cx="469.6" cy="333.7" r="1.2" fill="#5fec5f"/>
<circle cx="487.4" cy="319.7" r="1.2" fill="#5fec5f"/>
<circle cx="505" cy="296.2" r="1.2" fill="#5fec5f"/>
<circle cx="519.1" cy="241.4" r="1.2" fill="#5fec5f"/>
<path d="M365.9,295.5 C366.77,297.43 369.32,303.5 371.1,307.1 C372.88,310.7 374.77,314.15 376.6,317.1 C378.43,320.05 380.48,322.5 382.1,324.8 C383.72,327.1 384.45,328.78 386.3,330.9 C388.15,333.02 390.95,335.75 393.2,337.5 C395.45,339.25 397.6,340.47 399.8,341.4 C402,342.33 404.25,342.6 406.4,343.1 C408.55,343.6 410.43,344.02 412.7,344.4 C414.97,344.78 417.28,345.15 420,345.4 C422.72,345.65 425.97,345.97 429,345.9 C432.03,345.83 434.55,345.57 438.2,345 C441.85,344.43 447.08,343.18 450.9,342.5 C454.72,341.82 458.13,341.43 461.1,340.9 C464.07,340.37 466.27,340.17 468.7,339.3 C471.13,338.43 473.23,337.12 475.7,335.7 C478.17,334.28 480.4,333.25 483.5,330.8 C486.6,328.35 491.55,323.9 494.3,321 C497.05,318.1 498.22,316.33 500,313.4 C501.78,310.47 503.18,306.87 505,303.4 C506.82,299.93 508.83,296.83 510.9,292.6 C512.97,288.37 516.32,280.43 517.4,278" fill="none" stroke="#f5197d" stroke-width="1.1"/>
<circle cx="365.9" cy="295.5" r="1.2" fill="#f5197d"/>
<circle cx="386.3" cy="330.9" r="1.2" fill="#f5197d"/>
<circle cx="429" cy="345.9" r="1.2" fill="#f5197d"/>
<circle cx="450.9" cy="342.5" r="1.2" fill="#f5197d"/>
<circle cx="468.7" cy="339.3" r="1.2" fill="#f5197d"/>
<circle cx="494.3" cy="321" r="1.2" fill="#f5197d"/>
<circle cx="517.4" cy="278" r="1.2" fill="#f5197d"/>
<path d="M360.9,212.2 C361.2,216.1 362.13,227.87 362.7,235.6 C363.27,243.33 363.73,250.93 364.3,258.6 C364.87,266.27 365.43,274.98 366.1,281.6 C366.77,288.22 367.57,293.5 368.3,298.3 C369.03,303.1 369.67,306.35 370.5,310.4 C371.33,314.45 372.28,319.27 373.3,322.6 C374.32,325.93 375.5,328.18 376.6,330.4 C377.7,332.62 378.62,334.25 379.9,335.9 C381.18,337.55 382.27,339.17 384.3,340.3 C386.33,341.43 389.15,342.15 392.1,342.7 C395.05,343.25 398.57,343.5 402,343.6 C405.43,343.7 408.68,343.7 412.7,343.3 C416.72,342.9 421,341.8 426.1,341.2 C431.2,340.6 438.73,340.33 443.3,339.7 C447.87,339.07 450.35,338.45 453.5,337.4 C456.65,336.35 459.82,334.67 462.2,333.4 C464.58,332.13 465.4,331.53 467.8,329.8 C470.2,328.07 473.65,325.35 476.6,323 C479.55,320.65 482.4,318.05 485.5,315.7 C488.6,313.35 491.78,311.43 495.2,308.9 C498.62,306.37 503.05,303.05 506,300.5 C508.95,297.95 511.75,294.75 512.9,293.6" fill="none" stroke="#b98afc" stroke-width="1.1"/>
<circle cx="360.9" cy="212.2" r="1.2" fill="#b98afc"/>
<circle cx="376.6" cy="330.4" r="1.2" fill="#b98afc"/>
<circle cx="392.1" cy="342.7" r="1.2" fill="#b98afc"/>
<circle cx="426.1" cy="341.2" r="1.2" fill="#b98afc"/>
<circle cx="443.3" cy="339.7" r="1.2" fill="#b98afc"/>
<circle cx="462.2" cy="333.4" r="1.2" fill="#b98afc"/>
<circle cx="476.6" cy="323" r="1.2" fill="#b98afc"/>
<circle cx="495.2" cy="308.9" r="1.2" fill="#b98afc"/>
<circle cx="512.9" cy="293.6" r="1.2" fill="#b98afc"/>
<line x1="40.4" y1="402.3" x2="40.4" y2="541.5" stroke="#707070" stroke-width="1.15"/>
<line x1="40.4" y1="539.2" x2="210.4" y2="539.2" stroke="#707070" stroke-width="1.15"/>
<line x1="38.1" y1="539.2" x2="40.4" y2="539.2" stroke="#707070" stroke-width="0.8"/>
<line x1="38.1" y1="516.4" x2="40.4" y2="516.4" stroke="#707070" stroke-width="0.8"/>
<line x1="38.1" y1="493.6" x2="40.4" y2="493.6" stroke="#707070" stroke-width="0.8"/>
<line x1="38.1" y1="470.8" x2="40.4" y2="470.8" stroke="#707070" stroke-width="0.8"/>
<line x1="38.1" y1="448" x2="40.4" y2="448" stroke="#707070" stroke-width="0.8"/>
<line x1="38.1" y1="425.2" x2="40.4" y2="425.2" stroke="#707070" stroke-width="0.8"/>
<line x1="38.1" y1="402.4" x2="40.4" y2="402.4" stroke="#707070" stroke-width="0.8"/>
<line x1="39.1" y1="527.8" x2="40.4" y2="527.8" stroke="#707070" stroke-width="0.8"/>
<line x1="39.1" y1="505" x2="40.4" y2="505" stroke="#707070" stroke-width="0.8"/>
<line x1="39.1" y1="482.2" x2="40.4" y2="482.2" stroke="#707070" stroke-width="0.8"/>
<line x1="39.1" y1="459.4" x2="40.4" y2="459.4" stroke="#707070" stroke-width="0.8"/>
<line x1="39.1" y1="436.6" x2="40.4" y2="436.6" stroke="#707070" stroke-width="0.8"/>
<line x1="39.1" y1="413.8" x2="40.4" y2="413.8" stroke="#707070" stroke-width="0.8"/>
<line x1="40.4" y1="539.2" x2="40.4" y2="541.5" stroke="#707070" stroke-width="0.8"/>
<line x1="55.13" y1="539.2" x2="55.13" y2="541.5" stroke="#707070" stroke-width="0.8"/>
<line x1="69.86" y1="539.2" x2="69.86" y2="541.5" stroke="#707070" stroke-width="0.8"/>
<line x1="84.59" y1="539.2" x2="84.59" y2="541.5" stroke="#707070" stroke-width="0.8"/>
<line x1="99.32" y1="539.2" x2="99.32" y2="541.5" stroke="#707070" stroke-width="0.8"/>
<line x1="114.05" y1="539.2" x2="114.05" y2="541.5" stroke="#707070" stroke-width="0.8"/>
<line x1="128.78" y1="539.2" x2="128.78" y2="541.5" stroke="#707070" stroke-width="0.8"/>
<line x1="143.51" y1="539.2" x2="143.51" y2="541.5" stroke="#707070" stroke-width="0.8"/>
<line x1="158.24" y1="539.2" x2="158.24" y2="541.5" stroke="#707070" stroke-width="0.8"/>
<line x1="172.97" y1="539.2" x2="172.97" y2="541.5" stroke="#707070" stroke-width="0.8"/>
<line x1="187.7" y1="539.2" x2="187.7" y2="541.5" stroke="#707070" stroke-width="0.8"/>
<line x1="202.43" y1="539.2" x2="202.43" y2="541.5" stroke="#707070" stroke-width="0.8"/>
<line x1="47.77" y1="539.2" x2="47.77" y2="540.5" stroke="#707070" stroke-width="0.8"/>
<line x1="62.49" y1="539.2" x2="62.49" y2="540.5" stroke="#707070" stroke-width="0.8"/>
<line x1="77.22" y1="539.2" x2="77.22" y2="540.5" stroke="#707070" stroke-width="0.8"/>
<line x1="91.95" y1="539.2" x2="91.95" y2="540.5" stroke="#707070" stroke-width="0.8"/>
<line x1="106.69" y1="539.2" x2="106.69" y2="540.5" stroke="#707070" stroke-width="0.8"/>
<line x1="121.41" y1="539.2" x2="121.41" y2="540.5" stroke="#707070" stroke-width="0.8"/>
<line x1="136.15" y1="539.2" x2="136.15" y2="540.5" stroke="#707070" stroke-width="0.8"/>
<line x1="150.88" y1="539.2" x2="150.88" y2="540.5" stroke="#707070" stroke-width="0.8"/>
<line x1="165.6" y1="539.2" x2="165.6" y2="540.5" stroke="#707070" stroke-width="0.8"/>
<line x1="180.34" y1="539.2" x2="180.34" y2="540.5" stroke="#707070" stroke-width="0.8"/>
<line x1="195.06" y1="539.2" x2="195.06" y2="540.5" stroke="#707070" stroke-width="0.8"/>
<text x="36.3" y="542.08" font-family="'Liberation Sans', Arial, sans-serif" font-size="8" text-anchor="end" font-weight="normal" fill="#161616" transform="matrix(1 0 0 1.05 0 -27.1)" stroke="#161616" stroke-width="0.23">0</text>
<text x="36.3" y="519.28" font-family="'Liberation Sans', Arial, sans-serif" font-size="8" text-anchor="end" font-weight="normal" fill="#161616" transform="matrix(1 0 0 1.05 0 -25.96)" stroke="#161616" stroke-width="0.23">100</text>
<text x="36.3" y="496.48" font-family="'Liberation Sans', Arial, sans-serif" font-size="8" text-anchor="end" font-weight="normal" fill="#161616" transform="matrix(1 0 0 1.05 0 -24.82)" stroke="#161616" stroke-width="0.23">200</text>
<text x="36.3" y="473.68" font-family="'Liberation Sans', Arial, sans-serif" font-size="8" text-anchor="end" font-weight="normal" fill="#161616" transform="matrix(1 0 0 1.05 0 -23.68)" stroke="#161616" stroke-width="0.23">300</text>
<text x="36.3" y="450.88" font-family="'Liberation Sans', Arial, sans-serif" font-size="8" text-anchor="end" font-weight="normal" fill="#161616" transform="matrix(1 0 0 1.05 0 -22.54)" stroke="#161616" stroke-width="0.23">400</text>
<text x="36.3" y="428.08" font-family="'Liberation Sans', Arial, sans-serif" font-size="8" text-anchor="end" font-weight="normal" fill="#161616" transform="matrix(1 0 0 1.05 0 -21.4)" stroke="#161616" stroke-width="0.23">500</text>
<text x="36.3" y="405.28" font-family="'Liberation Sans', Arial, sans-serif" font-size="8" text-anchor="end" font-weight="normal" fill="#161616" transform="matrix(1 0 0 1.05 0 -20.26)" stroke="#161616" stroke-width="0.23">600</text>
<text x="40.4" y="550.2" font-family="'Liberation Sans', Arial, sans-serif" font-size="8" text-anchor="middle" font-weight="normal" fill="#161616" transform="matrix(1 0 0 1.05 0 -27.51)" stroke="#161616" stroke-width="0.23">1</text>
<text x="55.13" y="550.2" font-family="'Liberation Sans', Arial, sans-serif" font-size="8" text-anchor="middle" font-weight="normal" fill="#161616" transform="matrix(1 0 0 1.05 0 -27.51)" stroke="#161616" stroke-width="0.23">2</text>
<text x="69.86" y="550.2" font-family="'Liberation Sans', Arial, sans-serif" font-size="8" text-anchor="middle" font-weight="normal" fill="#161616" transform="matrix(1 0 0 1.05 0 -27.51)" stroke="#161616" stroke-width="0.23">3</text>
<text x="84.59" y="550.2" font-family="'Liberation Sans', Arial, sans-serif" font-size="8" text-anchor="middle" font-weight="normal" fill="#161616" transform="matrix(1 0 0 1.05 0 -27.51)" stroke="#161616" stroke-width="0.23">4</text>
<text x="99.32" y="550.2" font-family="'Liberation Sans', Arial, sans-serif" font-size="8" text-anchor="middle" font-weight="normal" fill="#161616" transform="matrix(1 0 0 1.05 0 -27.51)" stroke="#161616" stroke-width="0.23">5</text>
<text x="114.05" y="550.2" font-family="'Liberation Sans', Arial, sans-serif" font-size="8" text-anchor="middle" font-weight="normal" fill="#161616" transform="matrix(1 0 0 1.05 0 -27.51)" stroke="#161616" stroke-width="0.23">6</text>
<text x="128.78" y="550.2" font-family="'Liberation Sans', Arial, sans-serif" font-size="8" text-anchor="middle" font-weight="normal" fill="#161616" transform="matrix(1 0 0 1.05 0 -27.51)" stroke="#161616" stroke-width="0.23">7</text>
<text x="143.51" y="550.2" font-family="'Liberation Sans', Arial, sans-serif" font-size="8" text-anchor="middle" font-weight="normal" fill="#161616" transform="matrix(1 0 0 1.05 0 -27.51)" stroke="#161616" stroke-width="0.23">8</text>
<text x="158.24" y="550.2" font-family="'Liberation Sans', Arial, sans-serif" font-size="8" text-anchor="middle" font-weight="normal" fill="#161616" transform="matrix(1 0 0 1.05 0 -27.51)" stroke="#161616" stroke-width="0.23">9</text>
<text x="172.97" y="550.2" font-family="'Liberation Sans', Arial, sans-serif" font-size="8" text-anchor="middle" font-weight="normal" fill="#161616" transform="matrix(1 0 0 1.05 0 -27.51)" stroke="#161616" stroke-width="0.23">10</text>
<text x="187.7" y="550.2" font-family="'Liberation Sans', Arial, sans-serif" font-size="8" text-anchor="middle" font-weight="normal" fill="#161616" transform="matrix(1 0 0 1.05 0 -27.51)" stroke="#161616" stroke-width="0.23">11</text>
<text x="202.43" y="550.2" font-family="'Liberation Sans', Arial, sans-serif" font-size="8" text-anchor="middle" font-weight="normal" fill="#161616" transform="matrix(1 0 0 1.05 0 -27.51)" stroke="#161616" stroke-width="0.23">12</text>
<text x="13.1" y="470.5" font-family="'Liberation Sans', Arial, sans-serif" font-size="9.6" text-anchor="middle" font-weight="normal" fill="#161616" transform="rotate(-90 13.1 470.5)" stroke="#161616" stroke-width="0.28">Red-Ox, mV</text>
<text x="125.3" y="563.6" font-family="'Liberation Sans', Arial, sans-serif" font-size="9.5" text-anchor="middle" font-weight="normal" fill="#161616" transform="matrix(1 0 0 1.05 0 -28.18)" stroke="#161616" stroke-width="0.28">pH</text>
<text x="123.7" y="581.2" font-family="'Liberation Serif', 'Times New Roman', serif" font-size="11.3" text-anchor="middle" font-weight="bold" fill="#111" transform="matrix(1 0 0 1.07 0 -40.68)">(e)</text>
<line x1="154" y1="405.5" x2="172.3" y2="405.5" stroke="#5fec5f" stroke-width="1.0"/>
<circle cx="163.15" cy="405.5" r="0.9" fill="#5fec5f"/>
<text x="174.2" y="408.19" font-family="'Liberation Sans', Arial, sans-serif" font-size="7.7" text-anchor="start" font-weight="normal" fill="#161616" transform="matrix(1 0 0 1.05 0 -20.41)" stroke="#161616" stroke-width="0.22">HEWL 7x10<tspan font-size="4.62" dy="-2.08">4</tspan><tspan dy="2.08"> nM</tspan></text>
<line x1="154" y1="415" x2="172.3" y2="415" stroke="#f5197d" stroke-width="1.0"/>
<circle cx="163.15" cy="415" r="0.9" fill="#f5197d"/>
<text x="174.2" y="417.69" font-family="'Liberation Sans', Arial, sans-serif" font-size="7.7" text-anchor="start" font-weight="normal" fill="#161616" transform="matrix(1 0 0 1.05 0 -20.88)" stroke="#161616" stroke-width="0.22">AuNPs 2.2 nM</text>
<line x1="154" y1="425.5" x2="172.3" y2="425.5" stroke="#b98afc" stroke-width="1.0"/>
<circle cx="163.15" cy="425.5" r="0.9" fill="#b98afc"/>
<text x="174.2" y="428.19" font-family="'Liberation Sans', Arial, sans-serif" font-size="7.7" text-anchor="start" font-weight="normal" fill="#161616" transform="matrix(1 0 0 1.05 0 -21.41)" stroke="#161616" stroke-width="0.22">HEWL (7x10<tspan font-size="4.62" dy="-2.08">4</tspan><tspan dy="2.08"> nM) +</tspan></text>
<line x1="154" y1="415" x2="172.3" y2="415" stroke="#f86fa8" stroke-width="1.8"/>
<circle cx="163.2" cy="415" r="1" fill="#f5197d"/>
<text x="155" y="438.3" font-family="'Liberation Sans', Arial, sans-serif" font-size="7.7" text-anchor="start" font-weight="normal" fill="#161616" transform="matrix(1 0 0 1.05 0 -21.91)" stroke="#161616" stroke-width="0.22">AuNPs (2.2 nM)</text>
<polyline points="61.3,419.2 80.5,423.5 120.5,454.5 141,477 157.5,493.3 180.4,517 203.4,535.4" fill="none" stroke="#f5197d" stroke-width="1.1" stroke-linejoin="round"/>
<circle cx="61.3" cy="419.2" r="1.2" fill="#f5197d"/>
<circle cx="80.5" cy="423.5" r="1.2" fill="#f5197d"/>
<circle cx="120.5" cy="454.5" r="1.2" fill="#f5197d"/>
<circle cx="141" cy="477" r="1.2" fill="#f5197d"/>
<circle cx="157.5" cy="493.3" r="1.2" fill="#f5197d"/>
<circle cx="180.4" cy="517" r="1.2" fill="#f5197d"/>
<circle cx="203.4" cy="535.4" r="1.2" fill="#f5197d"/>
<path d="M56.9,421 C59.38,421.27 66.88,421.68 71.8,422.6 C76.72,423.52 81.45,424.28 86.4,426.5 C91.35,428.72 96.9,432.52 101.5,435.9 C106.1,439.28 109.62,442.87 114,446.8 C118.38,450.73 122.57,454.23 127.8,459.5 C133.03,464.77 140.23,472.5 145.4,478.4 C150.57,484.3 153.83,489.27 158.8,494.9 C163.77,500.53 169.82,507.17 175.2,512.2 C180.58,517.23 186.25,521 191.1,525.1 C195.95,529.2 202.1,534.85 204.3,536.8" fill="none" stroke="#5fec5f" stroke-width="1.0"/>
<circle cx="56.9" cy="421" r="1.2" fill="#5fec5f"/>
<circle cx="71.8" cy="422.6" r="1.2" fill="#5fec5f"/>
<circle cx="86.4" cy="426.5" r="1.2" fill="#5fec5f"/>
<circle cx="101.5" cy="435.9" r="1.2" fill="#5fec5f"/>
<circle cx="114" cy="446.8" r="1.2" fill="#5fec5f"/>
<circle cx="127.8" cy="459.5" r="1.2" fill="#5fec5f"/>
<circle cx="145.4" cy="478.4" r="1.2" fill="#5fec5f"/>
<circle cx="158.8" cy="494.9" r="1.2" fill="#5fec5f"/>
<circle cx="175.2" cy="512.2" r="1.2" fill="#5fec5f"/>
<circle cx="191.1" cy="525.1" r="1.2" fill="#5fec5f"/>
<circle cx="204.3" cy="536.8" r="1.2" fill="#5fec5f"/>
<path d="M56.9,414.6 C59.38,415.03 66.88,415.68 71.8,417.2 C76.72,418.72 80.73,420.65 86.4,423.7 C92.07,426.75 100.65,431.7 105.8,435.5 C110.95,439.3 112.6,442.22 117.3,446.5 C122,450.78 128.33,455.45 134,461.2 C139.67,466.95 146.23,474.78 151.3,481 C156.37,487.22 159.28,492.68 164.4,498.5 C169.52,504.32 176.22,510.55 182,515.9 C187.78,521.25 196.25,528.15 199.1,530.6" fill="none" stroke="#b98afc" stroke-width="1.05"/>
<circle cx="56.9" cy="414.6" r="1.2" fill="#b98afc"/>
<circle cx="71.8" cy="417.2" r="1.2" fill="#b98afc"/>
<circle cx="86.4" cy="423.7" r="1.2" fill="#b98afc"/>
<circle cx="105.8" cy="435.5" r="1.2" fill="#b98afc"/>
<circle cx="117.3" cy="446.5" r="1.2" fill="#b98afc"/>
<circle cx="134" cy="461.2" r="1.2" fill="#b98afc"/>
<circle cx="151.3" cy="481" r="1.2" fill="#b98afc"/>
<circle cx="164.4" cy="498.5" r="1.2" fill="#b98afc"/>
<circle cx="182" cy="515.9" r="1.2" fill="#b98afc"/>
<circle cx="199.1" cy="530.6" r="1.2" fill="#b98afc"/>
<line x1="328.8" y1="402.4" x2="328.8" y2="541.1" stroke="#8c8c8c" stroke-width="1.7"/>
<line x1="328.8" y1="538.8" x2="513.5" y2="538.8" stroke="#8c8c8c" stroke-width="1.7"/>
<line x1="326.5" y1="530.4" x2="328.8" y2="530.4" stroke="#555" stroke-width="0.8"/>
<line x1="326.5" y1="513.7" x2="328.8" y2="513.7" stroke="#555" stroke-width="0.8"/>
<line x1="326.5" y1="497" x2="328.8" y2="497" stroke="#555" stroke-width="0.8"/>
<line x1="326.5" y1="480.3" x2="328.8" y2="480.3" stroke="#555" stroke-width="0.8"/>
<line x1="326.5" y1="463.6" x2="328.8" y2="463.6" stroke="#555" stroke-width="0.8"/>
<line x1="326.5" y1="446.9" x2="328.8" y2="446.9" stroke="#555" stroke-width="0.8"/>
<line x1="326.5" y1="430.2" x2="328.8" y2="430.2" stroke="#555" stroke-width="0.8"/>
<line x1="326.5" y1="413.5" x2="328.8" y2="413.5" stroke="#555" stroke-width="0.8"/>
<line x1="327.5" y1="538.75" x2="328.8" y2="538.75" stroke="#555" stroke-width="0.8"/>
<line x1="327.5" y1="522.05" x2="328.8" y2="522.05" stroke="#555" stroke-width="0.8"/>
<line x1="327.5" y1="505.35" x2="328.8" y2="505.35" stroke="#555" stroke-width="0.8"/>
<line x1="327.5" y1="488.65" x2="328.8" y2="488.65" stroke="#555" stroke-width="0.8"/>
<line x1="327.5" y1="471.95" x2="328.8" y2="471.95" stroke="#555" stroke-width="0.8"/>
<line x1="327.5" y1="455.25" x2="328.8" y2="455.25" stroke="#555" stroke-width="0.8"/>
<line x1="327.5" y1="438.55" x2="328.8" y2="438.55" stroke="#555" stroke-width="0.8"/>
<line x1="327.5" y1="421.85" x2="328.8" y2="421.85" stroke="#555" stroke-width="0.8"/>
<line x1="327.5" y1="405.15" x2="328.8" y2="405.15" stroke="#555" stroke-width="0.8"/>
<line x1="328.7" y1="538.8" x2="328.7" y2="541.1" stroke="#555" stroke-width="0.8"/>
<line x1="344.75" y1="538.8" x2="344.75" y2="541.1" stroke="#555" stroke-width="0.8"/>
<line x1="360.8" y1="538.8" x2="360.8" y2="541.1" stroke="#555" stroke-width="0.8"/>
<line x1="376.85" y1="538.8" x2="376.85" y2="541.1" stroke="#555" stroke-width="0.8"/>
<line x1="392.9" y1="538.8" x2="392.9" y2="541.1" stroke="#555" stroke-width="0.8"/>
<line x1="408.95" y1="538.8" x2="408.95" y2="541.1" stroke="#555" stroke-width="0.8"/>
<line x1="425" y1="538.8" x2="425" y2="541.1" stroke="#555" stroke-width="0.8"/>
<line x1="441.05" y1="538.8" x2="441.05" y2="541.1" stroke="#555" stroke-width="0.8"/>
<line x1="457.1" y1="538.8" x2="457.1" y2="541.1" stroke="#555" stroke-width="0.8"/>
<line x1="473.15" y1="538.8" x2="473.15" y2="541.1" stroke="#555" stroke-width="0.8"/>
<line x1="489.2" y1="538.8" x2="489.2" y2="541.1" stroke="#555" stroke-width="0.8"/>
<line x1="505.25" y1="538.8" x2="505.25" y2="541.1" stroke="#555" stroke-width="0.8"/>
<line x1="336.72" y1="538.8" x2="336.72" y2="540.1" stroke="#555" stroke-width="0.8"/>
<line x1="352.77" y1="538.8" x2="352.77" y2="540.1" stroke="#555" stroke-width="0.8"/>
<line x1="368.82" y1="538.8" x2="368.82" y2="540.1" stroke="#555" stroke-width="0.8"/>
<line x1="384.88" y1="538.8" x2="384.88" y2="540.1" stroke="#555" stroke-width="0.8"/>
<line x1="400.93" y1="538.8" x2="400.93" y2="540.1" stroke="#555" stroke-width="0.8"/>
<line x1="416.98" y1="538.8" x2="416.98" y2="540.1" stroke="#555" stroke-width="0.8"/>
<line x1="433.02" y1="538.8" x2="433.02" y2="540.1" stroke="#555" stroke-width="0.8"/>
<line x1="449.07" y1="538.8" x2="449.07" y2="540.1" stroke="#555" stroke-width="0.8"/>
<line x1="465.12" y1="538.8" x2="465.12" y2="540.1" stroke="#555" stroke-width="0.8"/>
<line x1="481.17" y1="538.8" x2="481.17" y2="540.1" stroke="#555" stroke-width="0.8"/>
<line x1="497.23" y1="538.8" x2="497.23" y2="540.1" stroke="#555" stroke-width="0.8"/>
<line x1="513.27" y1="538.8" x2="513.27" y2="540.1" stroke="#555" stroke-width="0.8"/>
<text x="324" y="532.92" font-family="'Liberation Sans', Arial, sans-serif" font-size="7" text-anchor="end" font-weight="normal" fill="#161616" transform="matrix(1 0 0 1.05 0 -26.65)" stroke="#161616" stroke-width="0.2">-40</text>
<text x="324" y="516.22" font-family="'Liberation Sans', Arial, sans-serif" font-size="7" text-anchor="end" font-weight="normal" fill="#161616" transform="matrix(1 0 0 1.05 0 -25.81)" stroke="#161616" stroke-width="0.2">-30</text>
<text x="324" y="499.52" font-family="'Liberation Sans', Arial, sans-serif" font-size="7" text-anchor="end" font-weight="normal" fill="#161616" transform="matrix(1 0 0 1.05 0 -24.98)" stroke="#161616" stroke-width="0.2">-20</text>
<text x="324" y="482.82" font-family="'Liberation Sans', Arial, sans-serif" font-size="7" text-anchor="end" font-weight="normal" fill="#161616" transform="matrix(1 0 0 1.05 0 -24.14)" stroke="#161616" stroke-width="0.2">-10</text>
<text x="324" y="466.12" font-family="'Liberation Sans', Arial, sans-serif" font-size="7" text-anchor="end" font-weight="normal" fill="#161616" transform="matrix(1 0 0 1.05 0 -23.31)" stroke="#161616" stroke-width="0.2">0</text>
<text x="324" y="449.42" font-family="'Liberation Sans', Arial, sans-serif" font-size="7" text-anchor="end" font-weight="normal" fill="#161616" transform="matrix(1 0 0 1.05 0 -22.47)" stroke="#161616" stroke-width="0.2">10</text>
<text x="324" y="432.72" font-family="'Liberation Sans', Arial, sans-serif" font-size="7" text-anchor="end" font-weight="normal" fill="#161616" transform="matrix(1 0 0 1.05 0 -21.64)" stroke="#161616" stroke-width="0.2">20</text>
<text x="324" y="416.02" font-family="'Liberation Sans', Arial, sans-serif" font-size="7" text-anchor="end" font-weight="normal" fill="#161616" transform="matrix(1 0 0 1.05 0 -20.8)" stroke="#161616" stroke-width="0.2">30</text>
<text x="328.7" y="549.4" font-family="'Liberation Serif', 'Times New Roman', serif" font-size="7" text-anchor="middle" font-weight="normal" fill="#161616" transform="matrix(1 0 0 1.05 0 -27.47)" stroke="#161616" stroke-width="0.2">1</text>
<text x="344.75" y="549.4" font-family="'Liberation Serif', 'Times New Roman', serif" font-size="7" text-anchor="middle" font-weight="normal" fill="#161616" transform="matrix(1 0 0 1.05 0 -27.47)" stroke="#161616" stroke-width="0.2">2</text>
<text x="360.8" y="549.4" font-family="'Liberation Serif', 'Times New Roman', serif" font-size="7" text-anchor="middle" font-weight="normal" fill="#161616" transform="matrix(1 0 0 1.05 0 -27.47)" stroke="#161616" stroke-width="0.2">3</text>
<text x="376.85" y="549.4" font-family="'Liberation Serif', 'Times New Roman', serif" font-size="7" text-anchor="middle" font-weight="normal" fill="#161616" transform="matrix(1 0 0 1.05 0 -27.47)" stroke="#161616" stroke-width="0.2">4</text>
<text x="392.9" y="549.4" font-family="'Liberation Serif', 'Times New Roman', serif" font-size="7" text-anchor="middle" font-weight="normal" fill="#161616" transform="matrix(1 0 0 1.05 0 -27.47)" stroke="#161616" stroke-width="0.2">5</text>
<text x="408.95" y="549.4" font-family="'Liberation Serif', 'Times New Roman', serif" font-size="7" text-anchor="middle" font-weight="normal" fill="#161616" transform="matrix(1 0 0 1.05 0 -27.47)" stroke="#161616" stroke-width="0.2">6</text>
<text x="425" y="549.4" font-family="'Liberation Serif', 'Times New Roman', serif" font-size="7" text-anchor="middle" font-weight="normal" fill="#161616" transform="matrix(1 0 0 1.05 0 -27.47)" stroke="#161616" stroke-width="0.2">7</text>
<text x="441.05" y="549.4" font-family="'Liberation Serif', 'Times New Roman', serif" font-size="7" text-anchor="middle" font-weight="normal" fill="#161616" transform="matrix(1 0 0 1.05 0 -27.47)" stroke="#161616" stroke-width="0.2">8</text>
<text x="457.1" y="549.4" font-family="'Liberation Serif', 'Times New Roman', serif" font-size="7" text-anchor="middle" font-weight="normal" fill="#161616" transform="matrix(1 0 0 1.05 0 -27.47)" stroke="#161616" stroke-width="0.2">9</text>
<text x="473.15" y="549.4" font-family="'Liberation Serif', 'Times New Roman', serif" font-size="7" text-anchor="middle" font-weight="normal" fill="#161616" transform="matrix(1 0 0 1.05 0 -27.47)" stroke="#161616" stroke-width="0.2">10</text>
<text x="489.2" y="549.4" font-family="'Liberation Serif', 'Times New Roman', serif" font-size="7" text-anchor="middle" font-weight="normal" fill="#161616" transform="matrix(1 0 0 1.05 0 -27.47)" stroke="#161616" stroke-width="0.2">11</text>
<text x="505.25" y="549.4" font-family="'Liberation Serif', 'Times New Roman', serif" font-size="7" text-anchor="middle" font-weight="normal" fill="#161616" transform="matrix(1 0 0 1.05 0 -27.47)" stroke="#161616" stroke-width="0.2">12</text>
<text x="308.4" y="468.3" font-family="'Liberation Serif', 'Times New Roman', serif" font-size="9" text-anchor="middle" font-weight="normal" fill="#161616" transform="rotate(-90 308.4 468.3)" stroke="#161616" stroke-width="0.26">Zeta potential, mV</text>
<text x="421" y="561.8" font-family="'Liberation Serif', 'Times New Roman', serif" font-size="8.3" text-anchor="middle" font-weight="normal" fill="#161616" transform="matrix(1 0 0 1.05 0 -28.09)" stroke="#161616" stroke-width="0.24">pH</text>
<text x="423.5" y="581.6" font-family="'Liberation Serif', 'Times New Roman', serif" font-size="11" text-anchor="middle" font-weight="bold" fill="#111" transform="matrix(1 0 0 1.07 0 -40.71)">(f)</text>
<line x1="463.6" y1="406.7" x2="479.5" y2="406.7" stroke="#5fec5f" stroke-width="1.0"/>
<line x1="463.6" y1="415.7" x2="479.5" y2="415.7" stroke="#f5197d" stroke-width="1.1"/>
<line x1="463.6" y1="425.2" x2="479.5" y2="425.2" stroke="#c8a2ff" stroke-width="1.9"/>
<circle cx="471.5" cy="406.7" r="0.9" fill="#5fec5f"/>
<text x="481.8" y="409.22" font-family="'Liberation Sans', Arial, sans-serif" font-size="7.2" text-anchor="start" font-weight="normal" fill="#161616" transform="matrix(1 0 0 1.05 0 -20.46)" stroke="#161616" stroke-width="0.21">HEWL 7x10<tspan font-size="4.3" dy="-1.95">4</tspan><tspan dy="1.95"> nM</tspan></text>
<text x="481.8" y="418.22" font-family="'Liberation Sans', Arial, sans-serif" font-size="7.2" text-anchor="start" font-weight="normal" fill="#161616" transform="matrix(1 0 0 1.05 0 -20.91)" stroke="#161616" stroke-width="0.21">AuNPs 2.2 nM</text>
<text x="481.8" y="427.72" font-family="'Liberation Sans', Arial, sans-serif" font-size="7.2" text-anchor="start" font-weight="normal" fill="#161616" transform="matrix(1 0 0 1.05 0 -21.39)" stroke="#161616" stroke-width="0.21">HEWL (7x10<tspan font-size="4.3" dy="-1.95">4</tspan><tspan dy="1.95"> nM)</tspan></text>
<text x="542.5" y="427.72" font-family="'Liberation Sans', Arial, sans-serif" font-size="7.2" text-anchor="start" font-weight="normal" fill="#161616" transform="matrix(1 0 0 1.05 0 -21.39)" stroke="#161616" stroke-width="0.21">+</text>
<text x="463.6" y="436.92" font-family="'Liberation Sans', Arial, sans-serif" font-size="7.2" text-anchor="start" font-weight="normal" fill="#161616" transform="matrix(1 0 0 1.05 0 -21.85)" stroke="#161616" stroke-width="0.21">AuNPs (2.2 nM)</text>
<polyline points="345.1,454.31 346.6,453.32 348.1,452.35 349.6,451.41 351.1,450.5 352.6,449.62 354.1,448.76 355.6,447.92 357.1,447.11 358.6,446.33 360.1,445.58 361.6,444.85 363.1,444.15 364.6,443.47 366.1,442.82 367.6,442.2 369.1,441.61 370.6,441.04 372.1,440.5 373.6,439.98 375.1,439.5 376.6,439.04 378.1,438.6 379.6,438.2 381.1,437.82 382.6,437.47 384.1,437.14 385.6,436.85 387.1,436.58 388.6,436.34 390.1,436.12 391.6,435.94 393.1,435.78 394.6,435.65 396.1,435.55 397.6,435.47 399.1,435.43 400.6,435.41 402.1,435.42 403.6,435.46 405.1,435.53 406.6,435.62 408.1,435.74 409.6,435.9 411.1,436.08 412.6,436.29 414.1,436.52 415.6,436.79 417.1,437.09 418.6,437.41 420.1,437.77 421.6,438.15 423.1,438.56 424.6,439 426.1,439.47 427.6,439.97 429.1,440.5 430.6,441.06 432.1,441.64 433.6,442.26 435.1,442.91 436.6,443.58 438.1,444.29 439.6,445.03 441.1,445.79 442.6,446.59 444.1,447.41 445.6,448.27 447.1,449.15 448.6,450.07 450.1,451.02 451.6,451.99 453.1,453 454.6,454.04 456.1,455.11 457.6,456.2 459.1,457.33 460.6,458.49 462.1,459.68 463.6,460.91 465.1,462.16 466.6,463.44 468.1,464.76 469.6,466.1 471.1,467.48 472.6,468.89 474.1,470.32 475.6,471.8 477.1,473.3 478.6,474.83 480.1,476.39 481.6,477.99 483.1,479.62 484.6,481.28 486.1,482.97 487.6,484.69 489.1,486.45 490.6,488.24 492.1,490.06 493.6,491.91 495.1,493.79 496.6,495.71 497.4,496.74" fill="none" stroke="#5fec5f" stroke-width="1.0" stroke-linejoin="round"/>
<polyline points="348.2,491.25 349.7,493.42 351.2,495.42 352.7,497.28 354.2,498.98 355.7,500.54 357.2,501.97 358.7,503.26 360.2,504.43 361.7,505.49 363.2,506.43 364.7,507.27 366.2,508.01 367.7,508.65 369.2,509.2 370.7,509.67 372.2,510.05 373.7,510.37 375.2,510.61 376.7,510.78 378.2,510.9 379.7,510.95 381.2,510.96 382.7,510.91 384.2,510.82 385.7,510.69 387.2,510.52 388.7,510.31 390.2,510.07 391.7,509.81 393.2,509.52 394.7,509.2 396.2,508.87 397.7,508.52 399.2,508.16 400.7,507.79 402.2,507.4 403.7,507.01 405.2,506.62 406.7,506.22 408.2,505.82 409.7,505.42 411.2,505.03 412.7,504.64 414.2,504.25 415.7,503.88 417.2,503.51 418.7,503.15 420.2,502.8 421.7,502.47 423.2,502.15 424.7,501.84 426.2,501.55 427.7,501.27 429.2,501.01 430.7,500.76 432.2,500.54 433.7,500.33 435.2,500.14 436.7,499.96 438.2,499.81 439.7,499.67 441.2,499.55 442.7,499.46 444.2,499.37 445.7,499.31 447.2,499.27 448.7,499.24 450.2,499.23 451.7,499.23 453.2,499.26 454.7,499.29 456.2,499.35 457.7,499.41 459.2,499.5 460.7,499.59 462.2,499.7 463.7,499.81 465.2,499.94 466.7,500.08 468.2,500.23 469.7,500.38 471.2,500.54 472.7,500.71 474.2,500.88 475.7,501.05 477.2,501.22 478.7,501.4 480.2,501.57 481.7,501.75 483.2,501.91 484.7,502.08 486.2,502.24 487.7,502.39 489.2,502.53 490.7,502.67 492.2,502.79 493.7,502.9 495.2,502.99 496.7,503.07" fill="none" stroke="#f5197d" stroke-width="1.0" stroke-linejoin="round"/>
<polyline points="336.9,415.57 338.4,415.11 339.9,414.67 341.4,414.25 342.9,413.85 344.4,413.48 345.9,413.12 347.4,412.79 348.9,412.49 350.4,412.2 351.9,411.94 353.4,411.7 354.9,411.48 356.4,411.28 357.9,411.11 359.4,410.96 360.9,410.83 362.4,410.72 363.9,410.64 365.4,410.57 366.9,410.53 368.4,410.52 369.9,410.52 371.4,410.55 372.9,410.6 374.4,410.67 375.9,410.77 377.4,410.88 378.9,411.02 380.4,411.19 381.9,411.37 383.4,411.58 384.9,411.81 386.4,412.06 387.9,412.34 389.4,412.63 390.9,412.95 392.4,413.3 393.9,413.66 395.4,414.05 396.9,414.46 398.4,414.89 399.9,415.35 401.4,415.83 402.9,416.33 404.4,416.85 405.9,417.4 407.4,417.97 408.9,418.56 410.4,419.17 411.9,419.81 413.4,420.47 414.9,421.15 416.4,421.86 417.9,422.59 419.4,423.34 420.9,424.11 422.4,424.91 423.9,425.73 425.4,426.57 426.9,427.44 428.4,428.32 429.9,429.24 431.4,430.17 432.9,431.13 434.4,432.11 435.9,433.11 437.4,434.13 438.9,435.18 440.4,436.25 441.9,437.35 443.4,438.47 444.9,439.61 446.4,440.77 447.9,441.96 449.4,443.16 450.9,444.4 452.4,445.65 453.9,446.93 455.4,448.23 456.9,449.56 458.4,450.9 459.9,452.28 461.4,453.67 462.9,455.09 464.4,456.53 465.9,457.99 467.4,459.48 468.9,460.99 470.4,462.52 471.9,464.07 473.4,465.65 474.9,467.26 476.4,468.88 477.9,470.53 479.4,472.2 480.9,473.9 482.4,475.62 483.9,477.36 485.4,479.12 486.9,480.91 488.4,482.72 489.9,484.56 491.4,486.42 492.9,488.3 494.4,490.2 495.9,492.13 497.4,494.08 498.9,496.06 500.4,498.06 501.9,500.08 503.4,502.12 504.9,504.19 506.4,506.28 506.9,506.99" fill="none" stroke="#b98afc" stroke-width="1.0" stroke-linejoin="round"/>
<line x1="345.1" y1="442.4" x2="345.1" y2="448.7" stroke="#5fec5f" stroke-width="0.9"/>
<line x1="343.7" y1="442.4" x2="346.5" y2="442.4" stroke="#5fec5f" stroke-width="0.9"/>
<line x1="343.7" y1="448.7" x2="346.5" y2="448.7" stroke="#5fec5f" stroke-width="0.9"/>
<rect x="344.1" y="444.5" width="2" height="2" fill="#5fec5f"/>
<line x1="360.9" y1="441" x2="360.9" y2="445.1" stroke="#5fec5f" stroke-width="0.9"/>
<line x1="359.5" y1="441" x2="362.3" y2="441" stroke="#5fec5f" stroke-width="0.9"/>
<line x1="359.5" y1="445.1" x2="362.3" y2="445.1" stroke="#5fec5f" stroke-width="0.9"/>
<rect x="359.9" y="442.1" width="2" height="2" fill="#5fec5f"/>
<line x1="375.5" y1="439.6" x2="375.5" y2="444" stroke="#5fec5f" stroke-width="0.9"/>
<line x1="374.1" y1="439.6" x2="376.9" y2="439.6" stroke="#5fec5f" stroke-width="0.9"/>
<line x1="374.1" y1="444" x2="376.9" y2="444" stroke="#5fec5f" stroke-width="0.9"/>
<rect x="374.5" y="440.8" width="2" height="2" fill="#5fec5f"/>
<line x1="389.1" y1="427.6" x2="389.1" y2="440.9" stroke="#5fec5f" stroke-width="0.9"/>
<line x1="387.7" y1="427.6" x2="390.5" y2="427.6" stroke="#5fec5f" stroke-width="0.9"/>
<line x1="387.7" y1="440.9" x2="390.5" y2="440.9" stroke="#5fec5f" stroke-width="0.9"/>
<rect x="388.1" y="433.2" width="2" height="2" fill="#5fec5f"/>
<line x1="404.2" y1="433.3" x2="404.2" y2="448.2" stroke="#5fec5f" stroke-width="0.9"/>
<line x1="402.8" y1="433.3" x2="405.6" y2="433.3" stroke="#5fec5f" stroke-width="0.9"/>
<line x1="402.8" y1="448.2" x2="405.6" y2="448.2" stroke="#5fec5f" stroke-width="0.9"/>
<rect x="403.2" y="439.9" width="2" height="2" fill="#5fec5f"/>
<line x1="421.8" y1="440" x2="421.8" y2="443.6" stroke="#5fec5f" stroke-width="0.9"/>
<line x1="420.4" y1="440" x2="423.2" y2="440" stroke="#5fec5f" stroke-width="0.9"/>
<line x1="420.4" y1="443.6" x2="423.2" y2="443.6" stroke="#5fec5f" stroke-width="0.9"/>
<rect x="420.8" y="440.8" width="2" height="2" fill="#5fec5f"/>
<line x1="434.9" y1="449" x2="434.9" y2="451" stroke="#5fec5f" stroke-width="0.9"/>
<line x1="433.5" y1="449" x2="436.3" y2="449" stroke="#5fec5f" stroke-width="0.9"/>
<line x1="433.5" y1="451" x2="436.3" y2="451" stroke="#5fec5f" stroke-width="0.9"/>
<rect x="433.9" y="449" width="2" height="2" fill="#5fec5f"/>
<line x1="454.1" y1="453.4" x2="454.1" y2="455.4" stroke="#5fec5f" stroke-width="0.9"/>
<line x1="452.7" y1="453.4" x2="455.5" y2="453.4" stroke="#5fec5f" stroke-width="0.9"/>
<line x1="452.7" y1="455.4" x2="455.5" y2="455.4" stroke="#5fec5f" stroke-width="0.9"/>
<rect x="453.1" y="453.4" width="2" height="2" fill="#5fec5f"/>
<line x1="461.8" y1="456.3" x2="461.8" y2="458.3" stroke="#5fec5f" stroke-width="0.9"/>
<line x1="460.4" y1="456.3" x2="463.2" y2="456.3" stroke="#5fec5f" stroke-width="0.9"/>
<line x1="460.4" y1="458.3" x2="463.2" y2="458.3" stroke="#5fec5f" stroke-width="0.9"/>
<rect x="460.8" y="456.3" width="2" height="2" fill="#5fec5f"/>
<line x1="476.4" y1="463.5" x2="476.4" y2="465.5" stroke="#5fec5f" stroke-width="0.9"/>
<line x1="475" y1="463.5" x2="477.8" y2="463.5" stroke="#5fec5f" stroke-width="0.9"/>
<line x1="475" y1="465.5" x2="477.8" y2="465.5" stroke="#5fec5f" stroke-width="0.9"/>
<rect x="475.4" y="463.5" width="2" height="2" fill="#5fec5f"/>
<line x1="487.3" y1="477" x2="487.3" y2="482.7" stroke="#5fec5f" stroke-width="0.9"/>
<line x1="485.9" y1="477" x2="488.7" y2="477" stroke="#5fec5f" stroke-width="0.9"/>
<line x1="485.9" y1="482.7" x2="488.7" y2="482.7" stroke="#5fec5f" stroke-width="0.9"/>
<rect x="486.3" y="478" width="2" height="2" fill="#5fec5f"/>
<line x1="497" y1="499.5" x2="497" y2="501.5" stroke="#5fec5f" stroke-width="0.9"/>
<line x1="495.6" y1="499.5" x2="498.4" y2="499.5" stroke="#5fec5f" stroke-width="0.9"/>
<line x1="495.6" y1="501.5" x2="498.4" y2="501.5" stroke="#5fec5f" stroke-width="0.9"/>
<rect x="496" y="499.5" width="2" height="2" fill="#5fec5f"/>
<line x1="348.2" y1="489.8" x2="348.2" y2="492" stroke="#f5197d" stroke-width="0.9"/>
<line x1="346.8" y1="489.8" x2="349.6" y2="489.8" stroke="#f5197d" stroke-width="0.9"/>
<line x1="346.8" y1="492" x2="349.6" y2="492" stroke="#f5197d" stroke-width="0.9"/>
<rect x="347.2" y="489.9" width="2" height="2" fill="#f5197d"/>
<line x1="364.2" y1="506.8" x2="364.2" y2="508.4" stroke="#f5197d" stroke-width="0.9"/>
<line x1="362.8" y1="506.8" x2="365.6" y2="506.8" stroke="#f5197d" stroke-width="0.9"/>
<line x1="362.8" y1="508.4" x2="365.6" y2="508.4" stroke="#f5197d" stroke-width="0.9"/>
<rect x="363.2" y="506.6" width="2" height="2" fill="#f5197d"/>
<line x1="380.4" y1="509.2" x2="380.4" y2="510.8" stroke="#f5197d" stroke-width="0.9"/>
<line x1="379" y1="509.2" x2="381.8" y2="509.2" stroke="#f5197d" stroke-width="0.9"/>
<line x1="379" y1="510.8" x2="381.8" y2="510.8" stroke="#f5197d" stroke-width="0.9"/>
<rect x="379.4" y="509" width="2" height="2" fill="#f5197d"/>
<line x1="412.4" y1="505.5" x2="412.4" y2="509.6" stroke="#f5197d" stroke-width="0.9"/>
<line x1="411" y1="505.5" x2="413.8" y2="505.5" stroke="#f5197d" stroke-width="0.9"/>
<line x1="411" y1="509.6" x2="413.8" y2="509.6" stroke="#f5197d" stroke-width="0.9"/>
<rect x="411.4" y="506.8" width="2" height="2" fill="#f5197d"/>
<line x1="431.8" y1="492.7" x2="431.8" y2="500" stroke="#f5197d" stroke-width="0.9"/>
<line x1="430.4" y1="492.7" x2="433.2" y2="492.7" stroke="#f5197d" stroke-width="0.9"/>
<line x1="430.4" y1="500" x2="433.2" y2="500" stroke="#f5197d" stroke-width="0.9"/>
<rect x="430.8" y="495.4" width="2" height="2" fill="#f5197d"/>
<line x1="450.9" y1="499.2" x2="450.9" y2="500.8" stroke="#f5197d" stroke-width="0.9"/>
<line x1="449.5" y1="499.2" x2="452.3" y2="499.2" stroke="#f5197d" stroke-width="0.9"/>
<line x1="449.5" y1="500.8" x2="452.3" y2="500.8" stroke="#f5197d" stroke-width="0.9"/>
<rect x="449.9" y="499" width="2" height="2" fill="#f5197d"/>
<line x1="469.8" y1="494.2" x2="469.8" y2="498.2" stroke="#f5197d" stroke-width="0.9"/>
<line x1="468.4" y1="494.2" x2="471.2" y2="494.2" stroke="#f5197d" stroke-width="0.9"/>
<line x1="468.4" y1="498.2" x2="471.2" y2="498.2" stroke="#f5197d" stroke-width="0.9"/>
<rect x="468.8" y="494.8" width="2" height="2" fill="#f5197d"/>
<line x1="485.9" y1="501" x2="485.9" y2="507" stroke="#f5197d" stroke-width="0.9"/>
<line x1="484.5" y1="501" x2="487.3" y2="501" stroke="#f5197d" stroke-width="0.9"/>
<line x1="484.5" y1="507" x2="487.3" y2="507" stroke="#f5197d" stroke-width="0.9"/>
<rect x="484.9" y="503" width="2" height="2" fill="#f5197d"/>
<line x1="497" y1="501.2" x2="497" y2="505" stroke="#f5197d" stroke-width="0.9"/>
<line x1="495.6" y1="501.2" x2="498.4" y2="501.2" stroke="#f5197d" stroke-width="0.9"/>
<line x1="495.6" y1="505" x2="498.4" y2="505" stroke="#f5197d" stroke-width="0.9"/>
<rect x="496" y="501.9" width="2" height="2" fill="#f5197d"/>
<line x1="336.9" y1="419.1" x2="336.9" y2="424.5" stroke="#b98afc" stroke-width="0.9"/>
<line x1="335.5" y1="419.1" x2="338.3" y2="419.1" stroke="#b98afc" stroke-width="0.9"/>
<line x1="335.5" y1="424.5" x2="338.3" y2="424.5" stroke="#b98afc" stroke-width="0.9"/>
<rect x="335.9" y="420.8" width="2" height="2" fill="#b98afc"/>
<line x1="345.8" y1="417.2" x2="345.8" y2="419.2" stroke="#b98afc" stroke-width="0.9"/>
<line x1="344.4" y1="417.2" x2="347.2" y2="417.2" stroke="#b98afc" stroke-width="0.9"/>
<line x1="344.4" y1="419.2" x2="347.2" y2="419.2" stroke="#b98afc" stroke-width="0.9"/>
<rect x="344.8" y="417.2" width="2" height="2" fill="#b98afc"/>
<line x1="356.4" y1="406.3" x2="356.4" y2="408.3" stroke="#b98afc" stroke-width="0.9"/>
<line x1="355" y1="406.3" x2="357.8" y2="406.3" stroke="#b98afc" stroke-width="0.9"/>
<line x1="355" y1="408.3" x2="357.8" y2="408.3" stroke="#b98afc" stroke-width="0.9"/>
<rect x="355.4" y="406.3" width="2" height="2" fill="#b98afc"/>
<line x1="367.6" y1="406.9" x2="367.6" y2="411.8" stroke="#b98afc" stroke-width="0.9"/>
<line x1="366.2" y1="406.9" x2="369" y2="406.9" stroke="#b98afc" stroke-width="0.9"/>
<line x1="366.2" y1="411.8" x2="369" y2="411.8" stroke="#b98afc" stroke-width="0.9"/>
<rect x="366.6" y="408.5" width="2" height="2" fill="#b98afc"/>
<line x1="378.2" y1="411.3" x2="378.2" y2="419.6" stroke="#b98afc" stroke-width="0.9"/>
<line x1="376.8" y1="411.3" x2="379.6" y2="411.3" stroke="#b98afc" stroke-width="0.9"/>
<line x1="376.8" y1="419.6" x2="379.6" y2="419.6" stroke="#b98afc" stroke-width="0.9"/>
<rect x="377.2" y="414.5" width="2" height="2" fill="#b98afc"/>
<line x1="389.1" y1="410.4" x2="389.1" y2="414.2" stroke="#b98afc" stroke-width="0.9"/>
<line x1="387.7" y1="410.4" x2="390.5" y2="410.4" stroke="#b98afc" stroke-width="0.9"/>
<line x1="387.7" y1="414.2" x2="390.5" y2="414.2" stroke="#b98afc" stroke-width="0.9"/>
<rect x="388.1" y="411.2" width="2" height="2" fill="#b98afc"/>
<line x1="396.9" y1="407.7" x2="396.9" y2="409.7" stroke="#b98afc" stroke-width="0.9"/>
<line x1="395.5" y1="407.7" x2="398.3" y2="407.7" stroke="#b98afc" stroke-width="0.9"/>
<line x1="395.5" y1="409.7" x2="398.3" y2="409.7" stroke="#b98afc" stroke-width="0.9"/>
<rect x="395.9" y="407.7" width="2" height="2" fill="#b98afc"/>
<line x1="406.4" y1="424.2" x2="406.4" y2="429.6" stroke="#b98afc" stroke-width="0.9"/>
<line x1="405" y1="424.2" x2="407.8" y2="424.2" stroke="#b98afc" stroke-width="0.9"/>
<line x1="405" y1="429.6" x2="407.8" y2="429.6" stroke="#b98afc" stroke-width="0.9"/>
<rect x="405.4" y="425.9" width="2" height="2" fill="#b98afc"/>
<line x1="415.5" y1="425.5" x2="415.5" y2="436.4" stroke="#b98afc" stroke-width="0.9"/>
<line x1="414.1" y1="425.5" x2="416.9" y2="425.5" stroke="#b98afc" stroke-width="0.9"/>
<line x1="414.1" y1="436.4" x2="416.9" y2="436.4" stroke="#b98afc" stroke-width="0.9"/>
<rect x="414.5" y="429.9" width="2" height="2" fill="#b98afc"/>
<line x1="425.8" y1="432.4" x2="425.8" y2="447.6" stroke="#b98afc" stroke-width="0.9"/>
<line x1="424.4" y1="432.4" x2="427.2" y2="432.4" stroke="#b98afc" stroke-width="0.9"/>
<line x1="424.4" y1="447.6" x2="427.2" y2="447.6" stroke="#b98afc" stroke-width="0.9"/>
<rect x="424.8" y="439" width="2" height="2" fill="#b98afc"/>
<line x1="434.9" y1="437.6" x2="434.9" y2="448.2" stroke="#b98afc" stroke-width="0.9"/>
<line x1="433.5" y1="437.6" x2="436.3" y2="437.6" stroke="#b98afc" stroke-width="0.9"/>
<line x1="433.5" y1="448.2" x2="436.3" y2="448.2" stroke="#b98afc" stroke-width="0.9"/>
<rect x="433.9" y="441.7" width="2" height="2" fill="#b98afc"/>
<line x1="458" y1="448.2" x2="458" y2="458.4" stroke="#b98afc" stroke-width="0.9"/>
<line x1="456.6" y1="448.2" x2="459.4" y2="448.2" stroke="#b98afc" stroke-width="0.9"/>
<line x1="456.6" y1="458.4" x2="459.4" y2="458.4" stroke="#b98afc" stroke-width="0.9"/>
<rect x="457" y="453" width="2" height="2" fill="#b98afc"/>
<line x1="465" y1="451.8" x2="465" y2="464.4" stroke="#b98afc" stroke-width="0.9"/>
<line x1="463.6" y1="451.8" x2="466.4" y2="451.8" stroke="#b98afc" stroke-width="0.9"/>
<line x1="463.6" y1="464.4" x2="466.4" y2="464.4" stroke="#b98afc" stroke-width="0.9"/>
<rect x="464" y="457.2" width="2" height="2" fill="#b98afc"/>
<line x1="474.1" y1="464.9" x2="474.1" y2="466.9" stroke="#b98afc" stroke-width="0.9"/>
<line x1="472.7" y1="464.9" x2="475.5" y2="464.9" stroke="#b98afc" stroke-width="0.9"/>
<line x1="472.7" y1="466.9" x2="475.5" y2="466.9" stroke="#b98afc" stroke-width="0.9"/>
<rect x="473.1" y="464.9" width="2" height="2" fill="#b98afc"/>
<line x1="492.4" y1="490.5" x2="492.4" y2="494.5" stroke="#b98afc" stroke-width="0.9"/>
<line x1="491" y1="490.5" x2="493.8" y2="490.5" stroke="#b98afc" stroke-width="0.9"/>
<line x1="491" y1="494.5" x2="493.8" y2="494.5" stroke="#b98afc" stroke-width="0.9"/>
<rect x="491.4" y="491.4" width="2" height="2" fill="#b98afc"/>
<line x1="502.2" y1="500.2" x2="502.2" y2="502.2" stroke="#b98afc" stroke-width="0.9"/>
<line x1="500.8" y1="500.2" x2="503.6" y2="500.2" stroke="#b98afc" stroke-width="0.9"/>
<line x1="500.8" y1="502.2" x2="503.6" y2="502.2" stroke="#b98afc" stroke-width="0.9"/>
<rect x="501.2" y="500.2" width="2" height="2" fill="#b98afc"/>
<line x1="506.9" y1="501.6" x2="506.9" y2="503.6" stroke="#b98afc" stroke-width="0.9"/>
<line x1="505.5" y1="501.6" x2="508.3" y2="501.6" stroke="#b98afc" stroke-width="0.9"/>
<line x1="505.5" y1="503.6" x2="508.3" y2="503.6" stroke="#b98afc" stroke-width="0.9"/>
<rect x="505.9" y="501.6" width="2" height="2" fill="#b98afc"/>
</svg>
</body></html>
